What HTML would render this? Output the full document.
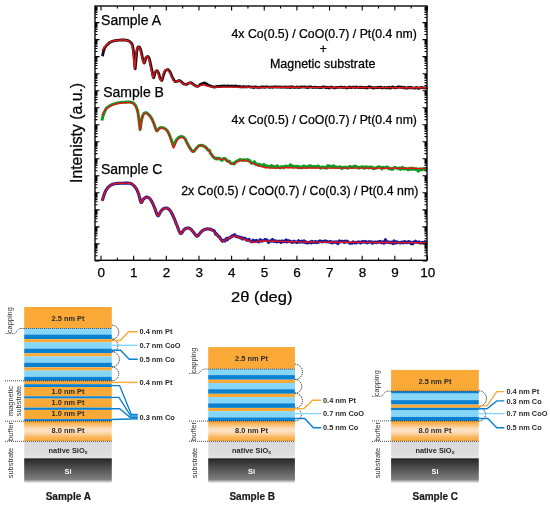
<!DOCTYPE html>
<html><head><meta charset="utf-8"><style>
html,body{margin:0;padding:0;background:#fff;}
svg{display:block;will-change:transform;font-family:"Liberation Sans",sans-serif;}
.ch text{stroke:#000;stroke-width:0.25px;}
</style></head><body>
<svg width="550" height="507" viewBox="0 0 550 507">
<rect width="550" height="507" fill="#fff"/>
<defs>
<linearGradient id="buf" x1="0" y1="0" x2="0" y2="1">
<stop offset="0" stop-color="#f9a536"/><stop offset="0.12" stop-color="#fab04e"/><stop offset="0.3" stop-color="#fcd3a4"/><stop offset="0.45" stop-color="#fde3c8"/><stop offset="0.6" stop-color="#fcd6aa"/><stop offset="0.8" stop-color="#fab75c"/><stop offset="1" stop-color="#f9a536"/>
</linearGradient>
<linearGradient id="sio" x1="0" y1="0" x2="0" y2="1">
<stop offset="0" stop-color="#d9d9d9"/><stop offset="0.8" stop-color="#dedede"/><stop offset="1" stop-color="#e9e9e9"/>
</linearGradient>
<linearGradient id="si" x1="0" y1="0" x2="0" y2="1">
<stop offset="0" stop-color="#262626"/><stop offset="0.85" stop-color="#808080"/><stop offset="1" stop-color="#ffffff"/>
</linearGradient>
</defs>
<g class="ch">
<path d="M102.5 56.2L103.0 53.6L103.5 51.5L104.0 49.8L104.7 47.5L105.2 46.9L105.7 46.4L106.2 45.8L106.7 45.3L107.2 44.8L107.7 44.2L108.2 43.7L108.7 43.3L109.2 42.8L109.7 42.5L110.2 42.2L110.7 42.0L111.2 41.7L111.7 41.5L112.2 41.4L112.7 41.2L113.2 41.1L113.7 41.0L114.2 40.8L114.7 40.7L115.2 40.6L115.7 40.5L116.2 40.5L116.7 40.4L117.2 40.3L117.7 40.3L118.2 40.2L118.7 40.2L119.2 40.1L119.7 40.1L120.2 40.0L120.7 40.0L121.2 40.0L121.7 40.0L122.2 40.0L122.7 40.0L123.2 40.0L123.7 40.0L124.2 40.0L124.7 40.0L125.2 40.0L125.7 40.1L126.2 40.2L126.7 40.3L127.2 40.4L127.7 40.6L128.2 40.7L128.7 41.0L129.2 41.3L129.7 41.6L130.2 41.9L130.7 42.4L131.2 42.9L131.7 43.6L132.2 44.7L132.7 46.7L133.2 49.4L133.7 53.4L134.2 58.9L134.7 65.6L135.2 68.8L135.7 63.7L136.2 57.8L136.7 52.1L137.2 49.2L137.7 47.7L138.2 46.8L138.7 46.8L139.2 47.1L139.7 47.6L140.2 48.4L140.7 49.8L141.2 51.8L141.7 53.9L142.2 56.4L142.7 58.9L143.2 60.6L143.7 62.2L144.2 63.1L144.7 62.3L145.2 60.1L145.7 58.2L146.2 57.5L146.7 56.9L147.2 56.6L147.7 56.5L148.2 56.8L148.7 57.5L149.2 58.4L149.7 60.3L150.2 62.6L150.7 64.9L151.2 67.2L151.7 69.6L152.2 72.0L152.7 74.8L153.2 77.1L153.7 77.7L154.2 76.3L154.7 74.0L155.2 72.2L155.7 71.5L156.2 71.0L156.7 70.7L157.2 70.8L157.7 71.5L158.2 72.4L158.7 73.5L159.2 75.2L159.7 77.1L160.2 78.5L160.7 79.4L161.2 80.1L161.7 80.5L162.2 79.9L162.7 78.1L163.2 76.0L163.7 74.5L164.2 73.1L164.7 71.8L165.2 70.8L165.7 70.4L166.2 70.1L166.7 69.8L167.2 69.7L167.7 69.6L168.2 69.7L168.7 70.2L169.2 70.8L169.7 71.6L170.2 72.3L170.7 73.3L171.2 74.5L171.7 75.8L172.2 76.9L172.7 77.9L173.2 78.8L173.7 79.7L174.2 80.6L174.7 81.2L175.2 81.6L175.7 81.6L176.2 81.5L176.7 81.4L177.2 81.3L177.7 81.1L178.2 80.9L178.7 80.6L179.2 80.5L179.7 80.6L180.2 80.9L180.7 81.3L181.2 81.8L181.7 82.2L182.2 82.6L182.7 83.1L183.2 83.5L183.7 83.9L184.2 84.1L184.7 84.2L185.2 84.3L185.7 84.4L186.2 84.4L186.7 84.3L187.2 84.1L187.7 83.7L188.2 83.4L188.7 83.2L189.2 83.0L189.7 82.9L190.2 82.7L190.7 82.7L191.2 82.8L191.7 83.1L192.2 83.5L192.7 83.9L193.2 84.3L193.7 84.6L194.2 84.9L194.7 85.3L195.2 85.6L195.7 85.9L196.2 86.1L196.7 86.2L197.2 86.3L197.7 86.3L198.2 86.2L198.7 85.9L199.2 85.5L199.7 85.1L200.2 84.6L200.7 84.3L201.2 84.1L201.7 83.9L202.2 83.7L202.7 83.5L203.2 83.3L203.7 83.1L204.2 83.0L204.7 83.0L205.2 83.2L205.7 83.5L206.2 83.7L206.7 84.0L207.2 84.3L207.7 84.8L208.2 85.3L208.7 85.3L209.2 85.5L209.7 85.8L210.2 85.9L210.7 86.0L211.2 86.3L211.7 86.4L212.2 86.5L212.7 86.7L213.2 86.9L213.7 87.0L214.2 87.0L214.7 87.0L215.2 87.0L215.7 86.9L216.2 86.7L216.7 86.6L217.2 86.4L217.7 86.4L218.2 86.5L218.7 86.4L219.2 86.3L219.7 86.6L220.2 86.6L220.7 86.2L221.2 86.0L221.7 86.3L222.2 86.3L222.7 86.1L223.2 86.2L223.7 86.1L224.2 85.9L224.7 86.1L225.2 86.2L225.7 86.1L226.2 86.1L226.7 86.4L227.2 86.1L227.7 85.8L228.2 86.1L228.7 86.2L229.2 86.1L229.7 86.1L230.2 86.1L230.7 86.1L231.2 86.1L231.7 86.2L232.2 86.1L232.7 86.0L233.2 86.3L233.7 86.4L234.2 86.3L234.7 86.2L235.2 86.3L235.7 86.0L236.2 86.1L236.7 86.3L237.2 86.3L237.7 86.5L238.2 86.7L238.7 86.8L239.2 86.5L239.7 86.5L240.2 86.5L240.7 86.6L241.2 87.1L241.7 86.9L242.2 86.7L242.7 86.9L243.2 86.7L243.7 86.5L244.2 86.8L244.7 87.0L245.2 86.8L245.7 86.8L246.2 86.8L246.7 86.7L247.2 86.9L247.7 86.9L248.2 86.6L248.7 86.5L249.2 86.6L249.7 86.8L250.2 87.1L250.7 87.2L251.2 87.2L251.7 87.2L252.2 87.0L252.7 87.0L253.2 87.4L253.7 87.6L254.2 87.2L254.7 87.0L255.2 87.0L255.7 87.0L256.2 87.0L256.7 87.1L257.2 87.3L257.7 87.5L258.2 87.4L258.7 87.4L259.2 87.4L259.7 87.4L260.2 87.4L260.7 87.2L261.2 86.9L261.7 87.0L262.2 87.0L262.7 86.9L263.2 86.9L263.7 87.0L264.2 87.3L264.7 87.3L265.2 86.9L265.7 86.9L266.2 87.0L266.7 87.0L267.2 86.8L267.7 86.8L268.2 87.0L268.7 87.1L269.2 87.4L269.7 87.5L270.2 87.3L270.7 87.1L271.2 87.0L271.7 87.1L272.2 87.2L272.7 87.4L273.2 87.3L273.7 86.8L274.2 86.8L274.7 86.9L275.2 87.0L275.7 86.8L276.2 86.9L276.7 87.1L277.2 87.2L277.7 87.1L278.2 86.8L278.7 87.0L279.2 87.2L279.7 87.0L280.2 86.8L280.7 87.1L281.2 87.4L281.7 87.3L282.2 87.2L282.7 87.1L283.2 87.0L283.7 87.0L284.2 87.1L284.7 87.3L285.2 87.3L285.7 87.0L286.2 87.0L286.7 87.2L287.2 87.4L287.7 87.2L288.2 86.9L288.7 87.1L289.2 87.5L289.7 87.5L290.2 86.9L290.7 86.9L291.2 87.2L291.7 86.8L292.2 86.7L292.7 87.2L293.2 87.3L293.7 87.1L294.2 87.2L294.7 87.4L295.2 87.5L295.7 87.4L296.2 87.2L296.7 87.0L297.2 87.0L297.7 87.2L298.2 87.5L298.7 87.3L299.2 87.1L299.7 87.3L300.2 87.4L300.7 87.2L301.2 87.1L301.7 86.9L302.2 86.8L302.7 87.0L303.2 87.1L303.7 87.1L304.2 87.1L304.7 86.9L305.2 86.9L305.7 87.2L306.2 87.4L306.7 87.1L307.2 87.2L307.7 87.5L308.2 87.5L308.7 87.4L309.2 86.9L309.7 86.7L310.2 87.0L310.7 87.0L311.2 86.9L311.7 87.0L312.2 87.4L312.7 87.5L313.2 87.3L313.7 87.4L314.2 87.3L314.7 87.2L315.2 87.2L315.7 87.3L316.2 87.4L316.7 87.3L317.2 87.3L317.7 87.4L318.2 87.3L318.7 87.3L319.2 87.5L319.7 87.6L320.2 87.5L320.7 87.6L321.2 87.5L321.7 87.2L322.2 87.2L322.7 87.3L323.2 87.2L323.7 86.9L324.2 86.8L324.7 86.9L325.2 87.2L325.7 87.6L326.2 87.8L326.7 87.7L327.2 87.4L327.7 87.2L328.2 87.3L328.7 87.7L329.2 88.0L329.7 87.7L330.2 87.3L330.7 87.2L331.2 87.1L331.7 87.0L332.2 87.2L332.7 87.5L333.2 87.7L333.7 87.7L334.2 87.8L334.7 87.9L335.2 87.7L335.7 87.8L336.2 87.6L336.7 87.3L337.2 87.3L337.7 87.3L338.2 87.3L338.7 87.3L339.2 87.4L339.7 87.3L340.2 87.2L340.7 87.1L341.2 87.0L341.7 87.3L342.2 87.5L342.7 87.5L343.2 87.5L343.7 87.4L344.2 87.2L344.7 87.3L345.2 87.6L345.7 87.7L346.2 87.8L346.7 88.0L347.2 87.7L347.7 87.7L348.2 87.7L348.7 87.4L349.2 87.0L349.7 87.0L350.2 87.4L350.7 87.7L351.2 87.6L351.7 87.4L352.2 87.4L352.7 87.2L353.2 87.0L353.7 87.2L354.2 87.3L354.7 87.3L355.2 87.6L355.7 87.2L356.2 86.9L356.7 87.1L357.2 87.4L357.7 87.4L358.2 87.5L358.7 87.7L359.2 87.4L359.7 87.1L360.2 87.3L360.7 87.6L361.2 87.2L361.7 87.1L362.2 87.4L362.7 87.6L363.2 87.7L363.7 87.5L364.2 87.4L364.7 87.6L365.2 87.5L365.7 87.3L366.2 87.9L366.7 88.1L367.2 87.5L367.7 87.5L368.2 87.6L368.7 87.1L369.2 86.7L369.7 86.9L370.2 87.1L370.7 87.3L371.2 87.6L371.7 87.5L372.2 87.3L372.7 87.7L373.2 88.1L373.7 88.1L374.2 87.9L374.7 87.7L375.2 87.6L375.7 87.5L376.2 87.6L376.7 87.7L377.2 87.8L377.7 87.6L378.2 87.3L378.7 87.6L379.2 87.7L379.7 87.3L380.2 87.2L380.7 87.1L381.2 87.2L381.7 87.7L382.2 88.0L382.7 87.9L383.2 87.7L383.7 87.6L384.2 87.5L384.7 87.5L385.2 87.8L385.7 88.0L386.2 87.8L386.7 87.6L387.2 87.5L387.7 87.7L388.2 88.0L388.7 87.6L389.2 87.2L389.7 87.7L390.2 88.1L390.7 88.0L391.2 87.9L391.7 87.5L392.2 86.9L392.7 86.8L393.2 87.1L393.7 87.5L394.2 87.7L394.7 87.8L395.2 87.7L395.7 87.8L396.2 87.6L396.7 87.5L397.2 87.6L397.7 87.2L398.2 86.8L398.7 87.1L399.2 87.2L399.7 86.9L400.2 87.2L400.7 87.4L401.2 87.1L401.7 87.1L402.2 87.3L402.7 87.6L403.2 87.9L403.7 87.7L404.2 87.2L404.7 87.4L405.2 87.9L405.7 88.2L406.2 88.0L406.7 88.0L407.2 88.1L407.7 87.8L408.2 87.4L408.7 87.3L409.2 87.7L409.7 88.0L410.2 87.6L410.7 87.4L411.2 87.4L411.7 87.7L412.2 87.9L412.7 87.8L413.2 87.9L413.7 88.0L414.2 88.1L414.7 88.2L415.2 88.1L415.7 87.7L416.2 87.4L416.7 87.5L417.2 87.7L417.7 88.0L418.2 88.5L418.7 88.4L419.2 87.9L419.7 87.8L420.2 87.9L420.7 87.5L421.2 87.6L421.7 87.8L422.2 87.6L422.7 87.5L423.2 87.7L423.7 87.9L424.2 87.9L424.7 88.0L425.2 88.0L425.7 88.0L426.2 88.0L426.7 87.6L427.2 87.4" fill="none" stroke="#111" stroke-width="2.8" stroke-linejoin="round"/>
<path d="M102.0 50.6L102.5 49.9L103.0 49.1L103.5 48.4L104.0 47.8L104.5 47.2L105.0 46.6L105.5 46.0L106.0 45.5L106.5 45.0L107.0 44.4L107.5 43.9L108.0 43.4L108.5 43.0L109.0 42.6L109.5 42.3L110.0 42.0L110.5 41.8L111.0 41.6L111.5 41.4L112.0 41.3L112.5 41.1L113.0 41.0L113.5 40.9L114.0 40.8L114.5 40.7L115.0 40.6L115.5 40.5L116.0 40.4L116.5 40.4L117.0 40.3L117.5 40.2L118.0 40.2L118.5 40.1L119.0 40.1L119.5 40.1L120.0 40.0L120.5 40.0L121.0 40.0L121.5 40.0L122.0 40.0L122.5 40.0L123.0 40.0L123.5 40.0L124.0 40.0L124.5 40.0L125.0 40.1L125.5 40.2L126.0 40.3L126.5 40.4L127.0 40.5L127.5 40.7L128.0 40.9L128.5 41.1L129.0 41.5L129.5 41.8L130.0 42.2L130.5 42.7L131.0 43.3L131.5 44.2L132.0 45.8L132.5 48.2L133.0 51.5L133.5 56.7L134.0 62.6L134.5 68.7L135.0 66.2L135.5 60.0L136.0 54.2L136.5 50.0L137.0 48.2L137.5 47.0L138.0 46.7L138.5 46.9L139.0 47.4L139.5 48.0L140.0 49.2L140.5 51.0L141.0 53.0L141.5 55.3L142.0 57.9L142.5 60.0L143.0 61.6L143.5 62.8L144.0 62.9L144.5 61.0L145.0 58.8L145.5 57.7L146.0 57.1L146.5 56.7L147.0 56.5L147.5 56.7L148.0 57.2L148.5 58.0L149.0 59.5L149.5 61.7L150.0 64.0L150.5 66.3L151.0 68.7L151.5 71.0L152.0 73.6L152.5 76.3L153.0 77.7L153.5 77.1L154.0 74.9L154.5 72.7L155.0 71.7L155.5 71.2L156.0 70.8L156.5 70.7L157.0 71.1L157.5 72.0L158.0 73.0L158.5 74.5L159.0 76.4L159.5 78.1L160.0 79.0L160.5 79.9L161.0 80.4L161.5 80.3L162.0 78.9L162.5 76.8L163.0 75.0L163.5 73.6L164.0 72.3L164.5 71.1L165.0 70.5L165.5 70.2L166.0 69.9L166.5 69.7L167.0 69.6L167.5 69.6L168.0 70.0L168.5 70.5L169.0 71.3L169.5 72.0L170.0 72.9L170.5 74.0L171.0 75.3L171.5 76.5L172.0 77.5L172.5 78.4L173.0 79.4L173.5 80.3L174.0 81.0L174.5 81.5L175.0 81.6L175.5 81.6L176.0 81.5L176.5 81.3L177.0 81.2L177.5 81.0L178.0 80.7L178.5 80.5L179.0 80.5L179.5 80.8L180.0 81.2L180.5 81.6L181.0 82.0L181.5 82.4L182.0 82.9L182.5 83.4L183.0 83.8L183.5 84.0L184.0 84.1L184.5 84.3L185.0 84.3L185.5 84.4L186.0 84.4L186.5 84.2L187.0 83.9L187.5 83.5L188.0 83.3L188.5 83.1L189.0 82.9L189.5 82.8L190.0 82.7L190.5 82.7L191.0 83.0L191.5 83.3L192.0 83.7L192.5 84.2L193.0 84.5L193.5 84.8L194.0 85.1L194.5 85.4L195.0 85.7L195.5 86.0L196.0 86.2L196.5 86.3L197.0 86.3L197.5 86.2L198.0 86.1L198.5 86.0L199.0 85.8L199.5 85.7L200.0 85.6L200.5 85.5L201.0 85.4L201.5 85.3L202.0 85.3L202.5 85.2L203.0 85.1L203.5 85.1L204.0 85.1L204.5 85.2L205.0 85.3L205.5 85.4L206.0 85.6L206.5 85.8L207.0 86.0L207.5 86.2L208.0 86.3L208.5 86.4L209.0 86.5L209.5 86.6L210.0 86.8L210.5 86.9L211.0 86.9L211.5 87.0L212.0 87.1L212.5 87.1L213.0 87.1L213.5 87.1L214.0 87.1L214.5 87.1L215.0 87.1L215.5 87.1L216.0 87.1L216.5 87.1L217.0 87.1L217.5 87.1L218.0 87.1L218.5 87.1L219.0 87.1L219.5 87.1L220.0 87.1L220.5 87.1L221.0 87.1L221.5 87.1L222.0 87.1L222.5 87.1L223.0 87.1L223.5 87.1L224.0 87.1L224.5 87.1L225.0 87.1L225.5 87.1L226.0 87.1L226.5 87.1L227.0 87.1L227.5 87.1L228.0 87.1L228.5 87.1L229.0 87.1L229.5 87.1L230.0 87.1L230.5 87.1L231.0 87.1L231.5 87.1L232.0 87.1L232.5 87.1L233.0 87.1L233.5 87.1L234.0 87.1L234.5 87.1L235.0 87.1L235.5 87.1L236.0 87.1L236.5 87.1L237.0 87.1L237.5 87.1L238.0 87.1L238.5 87.1L239.0 87.1L239.5 87.1L240.0 87.1L240.5 87.1L241.0 87.1L241.5 87.1L242.0 87.1L242.5 87.1L243.0 87.1L243.5 87.1L244.0 87.1L244.5 87.1L245.0 87.1L245.5 87.1L246.0 87.1L246.5 87.1L247.0 87.1L247.5 87.2L248.0 87.2L248.5 87.2L249.0 87.2L249.5 87.2L250.0 87.3L250.5 87.3L251.0 87.3L251.5 87.3L252.0 87.4L252.5 87.4L253.0 87.4L253.5 87.4L254.0 87.4L254.5 87.5L255.0 87.5L255.5 87.5L256.0 87.5L256.5 87.5L257.0 87.5L257.5 87.5L258.0 87.5L258.5 87.5L259.0 87.5L259.5 87.5L260.0 87.5L260.5 87.5L261.0 87.5L261.5 87.5L262.0 87.5L262.5 87.5L263.0 87.5L263.5 87.5L264.0 87.5L264.5 87.5L265.0 87.5L265.5 87.4L266.0 87.4L266.5 87.4L267.0 87.4L267.5 87.4L268.0 87.4L268.5 87.4L269.0 87.4L269.5 87.4L270.0 87.4L270.5 87.4L271.0 87.4L271.5 87.4L272.0 87.4L272.5 87.4L273.0 87.4L273.5 87.4L274.0 87.3L274.5 87.3L275.0 87.3L275.5 87.3L276.0 87.3L276.5 87.3L277.0 87.3L277.5 87.3L278.0 87.3L278.5 87.3L279.0 87.3L279.5 87.3L280.0 87.3L280.5 87.3L281.0 87.3L281.5 87.3L282.0 87.3L282.5 87.3L283.0 87.3L283.5 87.3L284.0 87.3L284.5 87.3L285.0 87.3L285.5 87.3L286.0 87.3L286.5 87.3L287.0 87.3L287.5 87.3L288.0 87.3L288.5 87.3L289.0 87.3L289.5 87.3L290.0 87.3L290.5 87.3L291.0 87.3L291.5 87.3L292.0 87.3L292.5 87.3L293.0 87.3L293.5 87.3L294.0 87.3L294.5 87.3L295.0 87.3L295.5 87.3L296.0 87.3L296.5 87.3L297.0 87.3L297.5 87.3L298.0 87.3L298.5 87.4L299.0 87.4L299.5 87.4L300.0 87.4L300.5 87.4L301.0 87.4L301.5 87.4L302.0 87.4L302.5 87.4L303.0 87.4L303.5 87.4L304.0 87.4L304.5 87.4L305.0 87.4L305.5 87.4L306.0 87.4L306.5 87.4L307.0 87.4L307.5 87.4L308.0 87.4L308.5 87.4L309.0 87.4L309.5 87.4L310.0 87.4L310.5 87.4L311.0 87.4L311.5 87.4L312.0 87.4L312.5 87.4L313.0 87.4L313.5 87.4L314.0 87.4L314.5 87.4L315.0 87.4L315.5 87.4L316.0 87.4L316.5 87.4L317.0 87.4L317.5 87.4L318.0 87.4L318.5 87.4L319.0 87.4L319.5 87.4L320.0 87.4L320.5 87.4L321.0 87.4L321.5 87.4L322.0 87.4L322.5 87.4L323.0 87.4L323.5 87.4L324.0 87.4L324.5 87.4L325.0 87.4L325.5 87.4L326.0 87.4L326.5 87.4L327.0 87.4L327.5 87.4L328.0 87.4L328.5 87.4L329.0 87.4L329.5 87.4L330.0 87.4L330.5 87.5L331.0 87.5L331.5 87.5L332.0 87.5L332.5 87.5L333.0 87.5L333.5 87.5L334.0 87.5L334.5 87.5L335.0 87.5L335.5 87.5L336.0 87.5L336.5 87.5L337.0 87.5L337.5 87.5L338.0 87.5L338.5 87.5L339.0 87.5L339.5 87.5L340.0 87.5L340.5 87.5L341.0 87.5L341.5 87.5L342.0 87.5L342.5 87.5L343.0 87.5L343.5 87.5L344.0 87.5L344.5 87.5L345.0 87.5L345.5 87.5L346.0 87.5L346.5 87.5L347.0 87.5L347.5 87.5L348.0 87.5L348.5 87.5L349.0 87.5L349.5 87.5L350.0 87.5L350.5 87.5L351.0 87.5L351.5 87.5L352.0 87.5L352.5 87.5L353.0 87.5L353.5 87.5L354.0 87.5L354.5 87.5L355.0 87.5L355.5 87.5L356.0 87.5L356.5 87.5L357.0 87.5L357.5 87.5L358.0 87.5L358.5 87.5L359.0 87.5L359.5 87.5L360.0 87.5L360.5 87.5L361.0 87.5L361.5 87.5L362.0 87.5L362.5 87.5L363.0 87.5L363.5 87.5L364.0 87.5L364.5 87.5L365.0 87.5L365.5 87.5L366.0 87.6L366.5 87.6L367.0 87.6L367.5 87.6L368.0 87.6L368.5 87.6L369.0 87.6L369.5 87.6L370.0 87.6L370.5 87.6L371.0 87.6L371.5 87.6L372.0 87.6L372.5 87.6L373.0 87.6L373.5 87.6L374.0 87.6L374.5 87.6L375.0 87.6L375.5 87.6L376.0 87.6L376.5 87.6L377.0 87.6L377.5 87.6L378.0 87.6L378.5 87.6L379.0 87.6L379.5 87.6L380.0 87.6L380.5 87.6L381.0 87.6L381.5 87.6L382.0 87.6L382.5 87.6L383.0 87.6L383.5 87.6L384.0 87.6L384.5 87.6L385.0 87.6L385.5 87.6L386.0 87.6L386.5 87.6L387.0 87.6L387.5 87.6L388.0 87.6L388.5 87.6L389.0 87.6L389.5 87.6L390.0 87.6L390.5 87.6L391.0 87.6L391.5 87.6L392.0 87.6L392.5 87.6L393.0 87.7L393.5 87.7L394.0 87.7L394.5 87.7L395.0 87.7L395.5 87.7L396.0 87.7L396.5 87.7L397.0 87.7L397.5 87.7L398.0 87.7L398.5 87.7L399.0 87.7L399.5 87.7L400.0 87.7L400.5 87.7L401.0 87.7L401.5 87.7L402.0 87.7L402.5 87.7L403.0 87.7L403.5 87.7L404.0 87.7L404.5 87.7L405.0 87.7L405.5 87.7L406.0 87.7L406.5 87.7L407.0 87.7L407.5 87.7L408.0 87.7L408.5 87.7L409.0 87.7L409.5 87.7L410.0 87.7L410.5 87.7L411.0 87.7L411.5 87.7L412.0 87.7L412.5 87.7L413.0 87.7L413.5 87.7L414.0 87.7L414.5 87.7L415.0 87.7L415.5 87.7L416.0 87.7L416.5 87.8L417.0 87.8L417.5 87.8L418.0 87.8L418.5 87.8L419.0 87.8L419.5 87.8L420.0 87.8L420.5 87.8L421.0 87.8L421.5 87.8L422.0 87.8L422.5 87.8L423.0 87.8L423.5 87.8L424.0 87.8L424.5 87.8L425.0 87.8L425.5 87.8L426.0 87.8L426.5 87.8L427.0 87.8" fill="none" stroke="#e8141c" stroke-width="1.4" stroke-linejoin="round"/>
<path d="M101.9 120.5L102.4 118.3L102.9 116.4L103.4 114.8L103.9 113.5L104.4 112.2L104.9 111.2L105.4 110.3L106.0 108.7L106.5 108.3L107.0 107.8L107.5 107.4L108.0 107.0L108.5 106.7L109.0 106.3L109.5 106.0L110.0 105.7L110.5 105.4L111.0 105.2L111.5 104.9L112.0 104.7L112.5 104.5L113.0 104.3L113.5 104.1L114.0 104.0L114.5 103.8L115.0 103.6L115.5 103.5L116.0 103.4L116.5 103.2L117.0 103.1L117.5 103.0L118.0 102.9L118.5 102.8L119.0 102.7L119.5 102.7L120.0 102.6L120.5 102.5L121.0 102.5L121.5 102.4L122.0 102.4L122.5 102.3L123.0 102.3L123.5 102.3L124.0 102.2L124.5 102.2L125.0 102.2L125.5 102.1L126.0 102.1L126.5 102.1L127.0 102.1L127.5 102.0L128.0 102.0L128.5 102.0L129.0 102.0L129.5 102.0L130.0 102.0L130.5 102.1L131.0 102.2L131.5 102.3L132.0 102.4L132.5 102.6L133.0 102.9L133.5 103.3L134.0 103.7L134.5 104.3L135.0 104.8L135.5 105.6L136.0 106.5L136.5 107.6L137.0 109.0L137.5 110.7L138.0 112.9L138.5 116.2L139.0 120.0L139.5 124.0L140.0 129.6L140.5 127.8L141.0 123.4L141.5 120.7L142.0 118.2L142.5 116.4L143.0 115.1L143.5 114.1L144.0 113.5L144.5 113.1L145.0 112.9L145.5 112.7L146.0 112.7L146.5 112.8L147.0 113.2L147.5 113.6L148.0 114.0L148.5 114.4L149.0 114.9L149.5 115.4L150.0 116.0L150.5 116.7L151.0 117.4L151.5 118.3L152.0 119.2L152.5 120.2L153.0 121.4L153.5 122.5L154.0 123.8L154.5 125.3L155.0 126.7L155.5 128.0L156.0 129.5L156.5 130.7L157.0 130.9L157.5 130.4L158.0 129.7L158.5 129.1L159.0 128.6L159.5 128.1L160.0 127.9L160.5 127.7L161.0 127.6L161.5 127.6L162.0 127.6L162.5 127.7L163.0 127.8L163.5 128.0L164.0 128.2L164.5 128.4L165.0 128.7L165.5 129.1L166.0 129.5L166.5 130.0L167.0 130.4L167.5 131.1L168.0 131.9L168.5 132.9L169.0 133.9L169.5 135.1L170.0 136.3L170.5 137.7L171.0 139.0L171.5 140.3L172.0 141.8L172.5 143.5L173.0 144.8L173.5 145.4L174.0 145.2L174.5 144.1L175.0 142.8L175.5 141.6L176.0 140.8L176.5 140.0L177.0 139.2L177.5 138.5L178.0 138.0L178.5 137.7L179.0 137.4L179.5 137.1L180.0 136.9L180.5 136.7L181.0 136.6L181.5 136.6L182.0 136.6L182.5 136.7L183.0 137.0L183.5 137.3L184.0 137.7L184.5 138.1L185.0 138.7L185.5 139.6L186.0 140.7L186.5 141.8L187.0 142.8L187.5 143.7L188.0 144.7L188.5 145.6L189.0 146.5L189.5 147.4L190.0 148.1L190.5 148.8L191.0 149.6L191.5 150.3L192.0 150.9L192.5 151.3L193.0 151.5L193.5 151.4L194.0 151.1L194.5 150.6L195.0 149.9L195.5 149.3L196.0 148.8L196.5 148.2L197.0 147.6L197.5 147.0L198.0 146.5L198.5 146.0L199.0 145.8L199.5 145.7L200.0 145.5L200.5 145.4L201.0 145.4L201.5 145.3L202.0 145.3L202.5 145.5L203.0 145.7L203.5 145.9L204.0 146.2L204.5 146.6L205.0 146.9L205.5 146.9L206.0 147.4L206.5 148.2L207.0 148.8L207.5 149.4L208.0 150.2L208.5 150.4L209.0 150.1L209.5 150.5L210.0 152.0L210.5 153.4L211.0 154.0L211.5 154.4L212.0 155.2L212.5 156.1L213.0 156.7L213.5 156.9L214.0 157.3L214.5 158.1L215.0 158.3L215.5 158.2L216.0 158.9L216.5 159.0L217.0 158.2L217.5 158.0L218.0 158.7L218.5 159.0L219.0 158.4L219.5 158.4L220.0 158.9L220.5 158.8L221.0 159.2L221.5 160.2L222.0 160.4L222.5 159.6L223.0 159.1L223.5 158.7L224.0 158.4L224.5 158.7L225.0 159.0L225.5 158.8L226.0 159.3L226.5 160.2L227.0 160.8L227.5 161.2L228.0 161.4L228.5 161.2L229.0 161.0L229.5 161.3L230.0 162.3L230.5 163.1L231.0 163.4L231.5 163.5L232.0 163.3L232.5 163.3L233.0 163.2L233.5 163.4L234.0 164.0L234.5 163.7L235.0 162.6L235.5 162.1L236.0 161.8L236.5 161.4L237.0 161.2L237.5 160.9L238.0 160.6L238.5 160.4L239.0 160.2L239.5 159.8L240.0 159.5L240.5 159.6L241.0 159.7L241.5 159.8L242.0 160.2L242.5 160.5L243.0 160.3L243.5 159.9L244.0 159.8L244.5 159.9L245.0 160.3L245.5 160.1L246.0 159.8L246.5 160.3L247.0 160.3L247.5 159.6L248.0 159.9L248.5 160.3L249.0 160.2L249.5 160.4L250.0 160.9L250.5 161.7L251.0 162.7L251.5 163.3L252.0 162.9L252.5 162.9L253.0 163.0L253.5 162.6L254.0 161.9L254.5 161.7L255.0 162.6L255.5 164.0L256.0 164.7L256.5 164.6L257.0 164.1L257.5 164.1L258.0 165.1L258.5 165.3L259.0 164.5L259.5 164.2L260.0 164.6L260.5 165.5L261.0 165.6L261.5 165.3L262.0 165.6L262.5 165.7L263.0 165.1L263.5 164.6L264.0 164.4L264.5 164.8L265.0 166.4L265.5 166.9L266.0 165.9L266.5 166.0L267.0 166.3L267.5 166.1L268.0 166.0L268.5 166.3L269.0 166.7L269.5 166.6L270.0 166.6L270.5 166.8L271.0 166.1L271.5 165.5L272.0 166.1L272.5 166.9L273.0 166.9L273.5 166.5L274.0 166.3L274.5 166.7L275.0 167.1L275.5 167.4L276.0 167.6L276.5 166.8L277.0 165.7L277.5 165.9L278.0 166.8L278.5 167.2L279.0 167.3L279.5 167.5L280.0 167.9L280.5 167.6L281.0 166.8L281.5 166.9L282.0 166.9L282.5 166.6L283.0 167.3L283.5 167.8L284.0 167.3L284.5 166.7L285.0 166.3L285.5 166.0L286.0 166.1L286.5 166.2L287.0 166.3L287.5 166.4L288.0 166.8L288.5 166.9L289.0 166.4L289.5 166.2L290.0 165.2L290.5 164.9L291.0 166.0L291.5 166.7L292.0 166.4L292.5 165.9L293.0 166.2L293.5 167.0L294.0 167.3L294.5 167.1L295.0 166.7L295.5 166.3L296.0 166.3L296.5 166.6L297.0 166.7L297.5 166.2L298.0 166.2L298.5 167.3L299.0 167.9L299.5 167.5L300.0 167.0L300.5 167.0L301.0 167.4L301.5 167.8L302.0 167.9L302.5 167.2L303.0 166.3L303.5 166.1L304.0 165.9L304.5 166.3L305.0 167.4L305.5 167.3L306.0 166.9L306.5 167.5L307.0 167.2L307.5 166.6L308.0 166.8L308.5 166.8L309.0 166.0L309.5 165.8L310.0 166.5L310.5 166.4L311.0 165.9L311.5 166.7L312.0 167.3L312.5 166.9L313.0 166.8L313.5 166.6L314.0 166.4L314.5 166.9L315.0 167.2L315.5 166.6L316.0 166.8L316.5 167.0L317.0 166.6L317.5 166.3L318.0 166.0L318.5 166.2L319.0 166.9L319.5 167.0L320.0 167.4L320.5 168.2L321.0 167.5L321.5 166.9L322.0 166.9L322.5 167.1L323.0 167.5L323.5 167.5L324.0 167.9L324.5 167.7L325.0 167.1L325.5 167.2L326.0 167.7L326.5 168.2L327.0 167.4L327.5 166.1L328.0 165.6L328.5 165.8L329.0 166.3L329.5 166.2L330.0 166.1L330.5 166.4L331.0 167.2L331.5 167.4L332.0 166.5L332.5 166.2L333.0 166.2L333.5 165.8L334.0 165.9L334.5 166.6L335.0 167.3L335.5 167.1L336.0 167.0L336.5 167.4L337.0 167.4L337.5 167.3L338.0 167.1L338.5 167.0L339.0 167.4L339.5 167.5L340.0 166.8L340.5 166.9L341.0 167.7L341.5 168.4L342.0 168.6L342.5 167.9L343.0 167.4L343.5 167.3L344.0 167.5L344.5 167.5L345.0 167.1L345.5 167.1L346.0 167.4L346.5 167.5L347.0 167.9L347.5 168.2L348.0 168.0L348.5 167.6L349.0 166.9L349.5 166.5L350.0 166.5L350.5 167.1L351.0 167.5L351.5 167.0L352.0 166.8L352.5 167.2L353.0 166.9L353.5 166.7L354.0 167.2L354.5 167.0L355.0 166.0L355.5 166.3L356.0 167.1L356.5 167.0L357.0 166.7L357.5 167.3L358.0 167.9L358.5 167.7L359.0 167.9L359.5 167.9L360.0 167.5L360.5 167.4L361.0 167.2L361.5 166.8L362.0 167.0L362.5 167.5L363.0 167.4L363.5 166.8L364.0 167.2L364.5 168.3L365.0 168.3L365.5 167.5L366.0 166.7L366.5 166.7L367.0 167.4L367.5 167.4L368.0 167.2L368.5 168.0L369.0 168.0L369.5 167.1L370.0 166.9L370.5 167.3L371.0 167.5L371.5 167.2L372.0 167.1L372.5 168.0L373.0 168.5L373.5 168.7L374.0 168.6L374.5 168.0L375.0 168.0L375.5 168.4L376.0 168.3L376.5 167.7L377.0 167.4L377.5 167.4L378.0 167.3L378.5 166.8L379.0 166.7L379.5 167.1L380.0 167.2L380.5 167.3L381.0 167.8L381.5 168.5L382.0 169.0L382.5 168.2L383.0 167.3L383.5 167.5L384.0 167.8L384.5 167.9L385.0 167.6L385.5 167.4L386.0 167.5L386.5 167.2L387.0 166.8L387.5 167.3L388.0 168.2L388.5 168.6L389.0 168.2L389.5 168.0L390.0 168.5L390.5 169.0L391.0 169.3L391.5 168.9L392.0 168.7L392.5 169.3L393.0 169.2L393.5 168.5L394.0 167.8L394.5 167.4L395.0 167.5L395.5 167.7L396.0 167.9L396.5 168.0L397.0 168.2L397.5 168.4L398.0 168.7L398.5 168.5L399.0 167.9L399.5 168.0L400.0 169.1L400.5 169.4L401.0 168.8L401.5 168.3L402.0 167.6L402.5 167.4L403.0 168.5L403.5 169.1L404.0 168.3L404.5 168.4L405.0 168.8L405.5 168.4L406.0 168.7L406.5 169.1L407.0 168.9L407.5 169.5L408.0 169.9L408.5 168.9L409.0 168.4L409.5 168.6L410.0 168.2L410.5 168.5L411.0 169.5L411.5 169.1L412.0 168.1L412.5 168.4L413.0 169.2L413.5 169.1L414.0 168.5L414.5 168.8L415.0 169.4L415.5 169.6L416.0 169.1L416.5 168.9L417.0 169.8L417.5 170.3L418.0 171.0L418.5 171.2L419.0 169.7L419.5 169.0L420.0 169.5L420.5 169.5L421.0 169.0L421.5 169.3L422.0 170.0L422.5 169.4L423.0 168.7L423.5 168.8L424.0 169.0L424.5 169.4L425.0 169.3L425.5 169.2L426.0 169.6L426.5 169.8L427.0 170.0" fill="none" stroke="#0e9a1e" stroke-width="3.0" stroke-linejoin="round"/>
<path d="M102.0 115.4L102.5 114.2L103.0 113.2L103.5 112.3L104.0 111.5L104.5 110.9L105.0 110.3L105.5 109.8L106.0 109.3L106.5 108.9L107.0 108.4L107.5 108.0L108.0 107.6L108.5 107.3L109.0 106.9L109.5 106.6L110.0 106.3L110.5 106.0L111.0 105.8L111.5 105.5L112.0 105.3L112.5 105.1L113.0 104.9L113.5 104.7L114.0 104.6L114.5 104.4L115.0 104.2L115.5 104.1L116.0 104.0L116.5 103.8L117.0 103.7L117.5 103.6L118.0 103.5L118.5 103.4L119.0 103.3L119.5 103.3L120.0 103.2L120.5 103.1L121.0 103.1L121.5 103.0L122.0 103.0L122.5 102.9L123.0 102.9L123.5 102.9L124.0 102.8L124.5 102.8L125.0 102.8L125.5 102.7L126.0 102.7L126.5 102.7L127.0 102.7L127.5 102.6L128.0 102.6L128.5 102.6L129.0 102.6L129.5 102.6L130.0 102.6L130.5 102.7L131.0 102.8L131.5 102.9L132.0 103.0L132.5 103.2L133.0 103.5L133.5 103.9L134.0 104.3L134.5 104.9L135.0 105.4L135.5 106.2L136.0 107.1L136.5 108.2L137.0 109.5L137.5 111.3L138.0 113.5L138.5 116.8L139.0 120.5L139.5 124.6L140.0 130.1L140.5 128.4L141.0 124.0L141.5 121.2L142.0 118.8L142.5 117.0L143.0 115.7L143.5 114.6L144.0 114.0L144.5 113.7L145.0 113.4L145.5 113.2L146.0 113.2L146.5 113.4L147.0 113.7L147.5 114.1L148.0 114.5L148.5 114.9L149.0 115.4L149.5 115.9L150.0 116.5L150.5 117.2L151.0 117.9L151.5 118.8L152.0 119.7L152.5 120.7L153.0 121.8L153.5 123.0L154.0 124.3L154.5 125.7L155.0 127.2L155.5 128.5L156.0 129.9L156.5 131.1L157.0 131.3L157.5 130.9L158.0 130.1L158.5 129.5L159.0 129.0L159.5 128.6L160.0 128.3L160.5 128.2L161.0 128.0L161.5 128.0L162.0 128.0L162.5 128.1L163.0 128.3L163.5 128.4L164.0 128.6L164.5 128.8L165.0 129.1L165.5 129.5L166.0 129.9L166.5 130.4L167.0 131.0L167.5 131.7L168.0 132.6L168.5 133.6L169.0 134.8L169.5 136.0L170.0 137.3L170.5 138.9L171.0 140.5L171.5 142.0L172.0 143.7L172.5 145.6L173.0 147.2L173.5 148.0L174.0 147.6L174.5 146.4L175.0 144.8L175.5 143.5L176.0 142.5L176.5 141.4L177.0 140.5L177.5 139.7L178.0 139.2L178.5 138.8L179.0 138.5L179.5 138.2L180.0 137.9L180.5 137.7L181.0 137.5L181.5 137.4L182.0 137.4L182.5 137.5L183.0 137.7L183.5 138.0L184.0 138.3L184.5 138.7L185.0 139.3L185.5 140.2L186.0 141.2L186.5 142.3L187.0 143.3L187.5 144.2L188.0 145.1L188.5 146.0L189.0 146.9L189.5 147.7L190.0 148.4L190.5 149.1L191.0 149.8L191.5 150.6L192.0 151.2L192.5 151.6L193.0 151.8L193.5 151.7L194.0 151.3L194.5 150.8L195.0 150.2L195.5 149.6L196.0 149.0L196.5 148.5L197.0 147.9L197.5 147.2L198.0 146.7L198.5 146.3L199.0 146.0L199.5 145.9L200.0 145.7L200.5 145.6L201.0 145.6L201.5 145.5L202.0 145.5L202.5 145.6L203.0 145.8L203.5 146.1L204.0 146.4L204.5 146.7L205.0 147.0L205.5 147.4L206.0 147.8L206.5 148.3L207.0 148.8L207.5 149.3L208.0 149.9L208.5 150.4L209.0 151.0L209.5 151.6L210.0 152.2L210.5 153.0L211.0 153.7L211.5 154.4L212.0 155.1L212.5 155.8L213.0 156.4L213.5 157.0L214.0 157.4L214.5 157.7L215.0 157.9L215.5 158.1L216.0 158.3L216.5 158.5L217.0 158.6L217.5 158.8L218.0 158.9L218.5 158.9L219.0 159.0L219.5 159.0L220.0 159.1L220.5 159.1L221.0 159.1L221.5 159.1L222.0 159.1L222.5 159.1L223.0 159.2L223.5 159.2L224.0 159.3L224.5 159.4L225.0 159.6L225.5 159.9L226.0 160.2L226.5 160.6L227.0 160.9L227.5 161.2L228.0 161.5L228.5 161.8L229.0 162.1L229.5 162.5L230.0 162.9L230.5 163.2L231.0 163.5L231.5 163.8L232.0 164.0L232.5 164.1L233.0 164.1L233.5 164.0L234.0 163.8L234.5 163.5L235.0 163.2L235.5 162.9L236.0 162.6L236.5 162.2L237.0 161.9L237.5 161.7L238.0 161.5L238.5 161.3L239.0 161.2L239.5 161.0L240.0 160.9L240.5 160.8L241.0 160.6L241.5 160.5L242.0 160.4L242.5 160.3L243.0 160.3L243.5 160.2L244.0 160.2L244.5 160.2L245.0 160.3L245.5 160.4L246.0 160.6L246.5 160.8L247.0 161.0L247.5 161.2L248.0 161.4L248.5 161.6L249.0 161.9L249.5 162.1L250.0 162.3L250.5 162.5L251.0 162.7L251.5 162.9L252.0 163.1L252.5 163.4L253.0 163.6L253.5 163.8L254.0 164.0L254.5 164.2L255.0 164.4L255.5 164.6L256.0 164.8L256.5 165.0L257.0 165.2L257.5 165.4L258.0 165.6L258.5 165.7L259.0 165.9L259.5 166.1L260.0 166.3L260.5 166.4L261.0 166.5L261.5 166.7L262.0 166.8L262.5 166.9L263.0 167.0L263.5 167.1L264.0 167.3L264.5 167.4L265.0 167.5L265.5 167.6L266.0 167.6L266.5 167.7L267.0 167.8L267.5 167.8L268.0 167.9L268.5 167.9L269.0 167.9L269.5 168.0L270.0 168.0L270.5 168.0L271.0 168.0L271.5 168.0L272.0 168.1L272.5 168.1L273.0 168.1L273.5 168.1L274.0 168.1L274.5 168.1L275.0 168.1L275.5 168.1L276.0 168.1L276.5 168.1L277.0 168.1L277.5 168.1L278.0 168.0L278.5 168.0L279.0 168.0L279.5 168.0L280.0 168.0L280.5 168.0L281.0 167.9L281.5 167.9L282.0 167.9L282.5 167.9L283.0 167.9L283.5 167.9L284.0 167.8L284.5 167.8L285.0 167.8L285.5 167.8L286.0 167.8L286.5 167.8L287.0 167.8L287.5 167.8L288.0 167.8L288.5 167.8L289.0 167.8L289.5 167.8L290.0 167.8L290.5 167.8L291.0 167.8L291.5 167.8L292.0 167.9L292.5 167.9L293.0 167.9L293.5 167.9L294.0 167.9L294.5 167.9L295.0 167.9L295.5 167.9L296.0 167.9L296.5 168.0L297.0 168.0L297.5 168.0L298.0 168.0L298.5 168.0L299.0 168.0L299.5 168.0L300.0 168.0L300.5 168.0L301.0 168.0L301.5 168.0L302.0 168.0L302.5 168.0L303.0 168.0L303.5 168.0L304.0 168.0L304.5 168.0L305.0 168.0L305.5 168.0L306.0 168.0L306.5 168.0L307.0 168.0L307.5 168.0L308.0 168.0L308.5 168.0L309.0 168.0L309.5 168.0L310.0 168.0L310.5 168.0L311.0 168.0L311.5 168.0L312.0 168.0L312.5 168.0L313.0 168.0L313.5 168.0L314.0 168.0L314.5 168.0L315.0 168.0L315.5 168.0L316.0 168.0L316.5 168.0L317.0 168.0L317.5 168.0L318.0 168.0L318.5 168.1L319.0 168.1L319.5 168.1L320.0 168.1L320.5 168.1L321.0 168.1L321.5 168.1L322.0 168.1L322.5 168.1L323.0 168.1L323.5 168.1L324.0 168.1L324.5 168.1L325.0 168.1L325.5 168.1L326.0 168.1L326.5 168.1L327.0 168.1L327.5 168.1L328.0 168.1L328.5 168.1L329.0 168.1L329.5 168.1L330.0 168.1L330.5 168.1L331.0 168.1L331.5 168.1L332.0 168.1L332.5 168.1L333.0 168.1L333.5 168.1L334.0 168.1L334.5 168.1L335.0 168.1L335.5 168.1L336.0 168.1L336.5 168.1L337.0 168.1L337.5 168.1L338.0 168.1L338.5 168.1L339.0 168.1L339.5 168.1L340.0 168.1L340.5 168.1L341.0 168.1L341.5 168.1L342.0 168.1L342.5 168.1L343.0 168.1L343.5 168.1L344.0 168.1L344.5 168.1L345.0 168.1L345.5 168.1L346.0 168.1L346.5 168.1L347.0 168.1L347.5 168.1L348.0 168.1L348.5 168.1L349.0 168.1L349.5 168.1L350.0 168.1L350.5 168.1L351.0 168.1L351.5 168.1L352.0 168.1L352.5 168.1L353.0 168.1L353.5 168.1L354.0 168.1L354.5 168.1L355.0 168.1L355.5 168.1L356.0 168.1L356.5 168.1L357.0 168.1L357.5 168.1L358.0 168.1L358.5 168.1L359.0 168.1L359.5 168.1L360.0 168.1L360.5 168.1L361.0 168.1L361.5 168.1L362.0 168.1L362.5 168.1L363.0 168.1L363.5 168.1L364.0 168.1L364.5 168.1L365.0 168.1L365.5 168.1L366.0 168.1L366.5 168.1L367.0 168.1L367.5 168.2L368.0 168.2L368.5 168.2L369.0 168.2L369.5 168.2L370.0 168.2L370.5 168.2L371.0 168.2L371.5 168.2L372.0 168.2L372.5 168.2L373.0 168.2L373.5 168.2L374.0 168.2L374.5 168.2L375.0 168.2L375.5 168.2L376.0 168.2L376.5 168.2L377.0 168.2L377.5 168.2L378.0 168.2L378.5 168.2L379.0 168.2L379.5 168.2L380.0 168.2L380.5 168.2L381.0 168.2L381.5 168.2L382.0 168.2L382.5 168.2L383.0 168.2L383.5 168.2L384.0 168.2L384.5 168.2L385.0 168.2L385.5 168.2L386.0 168.2L386.5 168.2L387.0 168.2L387.5 168.2L388.0 168.2L388.5 168.2L389.0 168.2L389.5 168.2L390.0 168.2L390.5 168.2L391.0 168.2L391.5 168.2L392.0 168.2L392.5 168.2L393.0 168.2L393.5 168.2L394.0 168.2L394.5 168.3L395.0 168.3L395.5 168.3L396.0 168.3L396.5 168.3L397.0 168.3L397.5 168.3L398.0 168.3L398.5 168.3L399.0 168.3L399.5 168.3L400.0 168.3L400.5 168.3L401.0 168.3L401.5 168.3L402.0 168.3L402.5 168.3L403.0 168.3L403.5 168.3L404.0 168.3L404.5 168.3L405.0 168.3L405.5 168.3L406.0 168.3L406.5 168.3L407.0 168.3L407.5 168.3L408.0 168.3L408.5 168.3L409.0 168.3L409.5 168.3L410.0 168.3L410.5 168.3L411.0 168.3L411.5 168.3L412.0 168.3L412.5 168.3L413.0 168.3L413.5 168.3L414.0 168.3L414.5 168.3L415.0 168.3L415.5 168.3L416.0 168.3L416.5 168.3L417.0 168.4L417.5 168.4L418.0 168.4L418.5 168.4L419.0 168.4L419.5 168.4L420.0 168.4L420.5 168.4L421.0 168.4L421.5 168.4L422.0 168.4L422.5 168.4L423.0 168.4L423.5 168.4L424.0 168.4L424.5 168.4L425.0 168.4L425.5 168.4L426.0 168.4L426.5 168.4L427.0 168.4" fill="none" stroke="#e8141c" stroke-width="1.4" stroke-linejoin="round"/>
<path d="M102.3 200.6L102.8 199.0L103.3 197.4L104.0 195.0L104.5 193.7L105.0 192.4L105.5 191.3L106.0 190.3L106.5 189.5L107.0 188.8L107.5 188.1L108.0 187.5L108.5 186.9L109.0 186.5L109.5 186.1L110.0 185.7L110.5 185.4L111.0 185.1L111.5 184.8L112.0 184.5L112.5 184.3L113.0 184.2L113.5 184.0L114.0 183.9L114.5 183.8L115.0 183.7L115.5 183.7L116.0 183.6L116.5 183.5L117.0 183.5L117.5 183.4L118.0 183.4L118.5 183.4L119.0 183.3L119.5 183.3L120.0 183.3L120.5 183.3L121.0 183.2L121.5 183.2L122.0 183.2L122.5 183.2L123.0 183.2L123.5 183.2L124.0 183.1L124.5 183.1L125.0 183.1L125.5 183.1L126.0 183.1L126.5 183.1L127.0 183.1L127.5 183.1L128.0 183.1L128.5 183.2L129.0 183.2L129.5 183.2L130.0 183.3L130.5 183.4L131.0 183.7L131.5 183.9L132.0 184.2L132.5 184.5L133.0 184.9L133.5 185.3L134.0 185.8L134.5 186.3L135.0 186.9L135.5 187.6L136.0 188.3L136.5 189.1L137.0 190.0L137.5 191.1L138.0 192.4L138.5 193.8L139.0 195.3L139.5 197.1L140.0 199.3L140.5 201.3L141.0 202.5L141.5 202.5L142.0 201.8L142.5 200.8L143.0 199.8L143.5 199.2L144.0 198.7L144.5 198.3L145.0 197.8L145.5 197.5L146.0 197.2L146.5 197.1L147.0 197.1L147.5 197.2L148.0 197.4L148.5 197.7L149.0 198.0L149.5 198.4L150.0 198.9L150.5 199.5L151.0 200.3L151.5 201.1L152.0 202.0L152.5 202.9L153.0 204.0L153.5 205.2L154.0 206.4L154.5 207.5L155.0 208.8L155.5 210.3L156.0 211.8L156.5 213.2L157.0 214.4L157.5 215.3L158.0 215.7L158.5 215.5L159.0 214.9L159.5 213.9L160.0 212.9L160.5 211.9L161.0 211.2L161.5 210.6L162.0 210.0L162.5 209.4L163.0 209.0L163.5 208.8L164.0 208.5L164.5 208.4L165.0 208.2L165.5 208.1L166.0 208.0L166.5 208.0L167.0 208.1L167.5 208.4L168.0 208.7L168.5 209.0L169.0 209.5L169.5 209.9L170.0 210.4L170.5 211.1L171.0 211.9L171.5 212.8L172.0 213.8L172.5 214.8L173.0 215.8L173.5 216.9L174.0 218.0L174.5 219.2L175.0 220.5L175.5 221.8L176.0 223.1L176.5 224.4L177.0 225.5L177.5 226.8L178.0 228.1L178.5 229.5L179.0 230.8L179.5 231.9L180.0 232.8L180.5 233.4L181.0 233.5L181.5 233.2L182.0 232.7L182.5 231.9L183.0 231.1L183.5 230.3L184.0 229.6L184.5 229.2L185.0 229.0L185.5 228.7L186.0 228.5L186.5 228.3L187.0 228.1L187.5 228.0L188.0 228.0L188.5 228.1L189.0 228.2L189.5 228.5L190.0 228.7L190.5 229.0L191.0 229.4L191.5 229.8L192.0 230.4L192.5 231.0L193.0 231.7L193.5 232.3L194.0 232.9L194.5 233.6L195.0 234.3L195.5 234.9L196.0 235.5L196.5 236.0L197.0 236.2L197.5 236.1L198.0 235.7L198.5 235.2L199.0 234.6L199.5 233.9L200.0 233.2L200.5 232.7L201.0 232.2L201.5 231.7L202.0 231.2L202.5 230.7L203.0 230.3L203.5 230.0L204.0 229.8L204.5 229.6L205.0 229.4L205.5 229.3L206.0 229.1L206.5 229.0L207.0 228.9L207.5 228.9L208.0 228.9L208.5 229.0L209.0 229.0L209.5 229.2L210.0 229.1L210.5 229.2L211.0 229.4L211.5 229.8L212.0 230.0L212.5 230.1L213.0 230.4L213.5 230.5L214.0 230.7L214.5 231.5L215.0 232.5L215.5 234.0L216.0 234.3L216.5 233.9L217.0 234.6L217.5 235.4L218.0 235.8L218.5 236.7L219.0 236.8L219.5 236.8L220.0 237.9L220.5 239.0L221.0 239.4L221.5 239.8L222.0 240.9L222.5 241.3L223.0 240.5L223.5 240.4L224.0 240.5L224.5 240.7L225.0 241.1L225.5 240.2L226.0 238.9L226.5 238.5L227.0 239.1L227.5 239.6L228.0 238.7L228.5 238.0L229.0 237.9L229.5 238.0L230.0 238.0L230.5 237.2L231.0 236.7L231.5 236.5L232.0 235.9L232.5 235.7L233.0 236.1L233.5 235.9L234.0 235.2L234.5 234.8L235.0 235.0L235.5 235.9L236.0 236.4L236.5 236.7L237.0 236.8L237.5 236.7L238.0 236.6L238.5 237.0L239.0 237.1L239.5 237.0L240.0 237.6L240.5 238.0L241.0 237.7L241.5 237.6L242.0 238.5L242.5 239.0L243.0 238.4L243.5 238.1L244.0 238.6L244.5 238.7L245.0 238.3L245.5 239.0L246.0 239.7L246.5 239.6L247.0 240.2L247.5 240.2L248.0 239.8L248.5 239.6L249.0 239.3L249.5 240.2L250.0 241.1L250.5 241.2L251.0 241.6L251.5 241.7L252.0 241.7L252.5 241.1L253.0 240.2L253.5 240.8L254.0 241.3L254.5 240.8L255.0 240.8L255.5 241.3L256.0 240.9L256.5 240.3L257.0 240.8L257.5 241.4L258.0 241.3L258.5 241.7L259.0 241.9L259.5 240.9L260.0 239.8L260.5 239.7L261.0 240.5L261.5 241.1L262.0 241.1L262.5 240.9L263.0 240.7L263.5 240.6L264.0 240.5L264.5 240.1L265.0 239.6L265.5 239.5L266.0 239.8L266.5 239.9L267.0 240.2L267.5 240.9L268.0 241.7L268.5 242.5L269.0 241.9L269.5 241.0L270.0 241.2L270.5 241.1L271.0 240.9L271.5 241.1L272.0 240.1L272.5 239.4L273.0 240.4L273.5 241.2L274.0 241.4L274.5 240.8L275.0 240.7L275.5 241.3L276.0 241.0L276.5 241.3L277.0 241.9L277.5 241.5L278.0 241.2L278.5 241.4L279.0 241.4L279.5 241.2L280.0 241.5L280.5 242.3L281.0 242.5L281.5 241.5L282.0 240.9L282.5 241.3L283.0 241.4L283.5 241.4L284.0 241.8L284.5 241.8L285.0 241.3L285.5 240.5L286.0 239.9L286.5 240.7L287.0 241.8L287.5 241.3L288.0 240.6L288.5 240.8L289.0 241.5L289.5 241.4L290.0 241.1L290.5 241.6L291.0 242.0L291.5 241.8L292.0 241.8L292.5 242.4L293.0 242.2L293.5 241.5L294.0 241.2L294.5 241.5L295.0 241.9L295.5 241.9L296.0 242.2L296.5 242.5L297.0 242.6L297.5 242.4L298.0 241.3L298.5 240.7L299.0 241.5L299.5 242.2L300.0 242.1L300.5 241.9L301.0 241.5L301.5 241.1L302.0 241.5L302.5 242.2L303.0 242.0L303.5 241.2L304.0 240.9L304.5 241.7L305.0 242.5L305.5 242.1L306.0 241.8L306.5 242.6L307.0 243.0L307.5 242.8L308.0 242.7L308.5 242.7L309.0 242.5L309.5 242.1L310.0 241.9L310.5 242.4L311.0 242.8L311.5 242.3L312.0 241.4L312.5 241.9L313.0 242.4L313.5 242.0L314.0 242.1L314.5 242.4L315.0 242.1L315.5 241.6L316.0 241.9L316.5 242.6L317.0 242.7L317.5 242.2L318.0 241.9L318.5 242.2L319.0 242.1L319.5 241.2L320.0 240.9L320.5 241.3L321.0 241.2L321.5 241.3L322.0 241.9L322.5 241.8L323.0 241.6L323.5 241.5L324.0 241.3L324.5 241.3L325.0 240.9L325.5 241.0L326.0 241.8L326.5 241.6L327.0 241.3L327.5 241.6L328.0 242.0L328.5 242.0L329.0 242.1L329.5 242.2L330.0 241.7L330.5 241.4L331.0 241.8L331.5 242.6L332.0 243.0L332.5 242.8L333.0 242.2L333.5 242.0L334.0 242.2L334.5 242.1L335.0 242.4L335.5 242.3L336.0 241.7L336.5 241.7L337.0 242.3L337.5 243.4L338.0 243.6L338.5 242.5L339.0 241.4L339.5 240.9L340.0 241.5L340.5 241.7L341.0 241.6L341.5 241.7L342.0 241.3L342.5 241.5L343.0 241.7L343.5 241.6L344.0 242.3L344.5 242.4L345.0 241.2L345.5 241.1L346.0 241.9L346.5 241.8L347.0 241.3L347.5 241.5L348.0 241.8L348.5 242.1L349.0 242.5L349.5 242.8L350.0 243.3L350.5 243.3L351.0 243.0L351.5 243.0L352.0 243.1L352.5 242.4L353.0 241.8L353.5 242.2L354.0 242.7L354.5 242.9L355.0 242.6L355.5 242.4L356.0 242.7L356.5 243.0L357.0 242.5L357.5 242.0L358.0 242.0L358.5 241.9L359.0 242.0L359.5 242.2L360.0 242.7L360.5 243.0L361.0 242.3L361.5 241.9L362.0 242.1L362.5 242.1L363.0 241.5L363.5 241.4L364.0 242.0L364.5 242.3L365.0 242.1L365.5 241.6L366.0 241.6L366.5 242.5L367.0 243.0L367.5 242.7L368.0 242.4L368.5 242.1L369.0 241.7L369.5 241.6L370.0 242.0L370.5 242.2L371.0 241.9L371.5 241.8L372.0 242.8L372.5 243.2L373.0 242.5L373.5 242.3L374.0 242.5L374.5 242.2L375.0 242.0L375.5 242.4L376.0 242.6L376.5 242.7L377.0 242.4L377.5 241.9L378.0 242.2L378.5 242.3L379.0 241.8L379.5 241.6L380.0 241.4L380.5 241.5L381.0 242.5L381.5 242.8L382.0 242.6L382.5 242.5L383.0 241.9L383.5 242.3L384.0 243.2L384.5 242.5L385.0 240.5L385.5 239.7L386.0 241.1L386.5 242.3L387.0 242.1L387.5 242.1L388.0 242.2L388.5 241.9L389.0 242.3L389.5 242.7L390.0 242.7L390.5 242.3L391.0 242.1L391.5 242.2L392.0 242.4L392.5 243.4L393.0 243.6L393.5 241.9L394.0 240.8L394.5 241.5L395.0 242.5L395.5 243.1L396.0 242.8L396.5 241.9L397.0 241.9L397.5 242.4L398.0 242.3L398.5 242.4L399.0 242.6L399.5 242.7L400.0 243.0L400.5 243.0L401.0 242.6L401.5 242.0L402.0 242.1L402.5 242.4L403.0 242.7L403.5 242.9L404.0 242.2L404.5 241.6L405.0 241.6L405.5 242.1L406.0 242.3L406.5 242.3L407.0 242.7L407.5 242.6L408.0 241.9L408.5 241.6L409.0 242.2L409.5 242.2L410.0 241.8L410.5 242.8L411.0 243.5L411.5 243.0L412.0 243.2L412.5 243.9L413.0 243.3L413.5 242.1L414.0 242.0L414.5 242.1L415.0 241.6L415.5 241.2L416.0 241.9L416.5 242.2L417.0 242.2L417.5 242.5L418.0 242.6L418.5 242.2L419.0 241.9L419.5 242.7L420.0 243.0L420.5 242.8L421.0 243.0L421.5 242.6L422.0 242.5L422.5 242.7L423.0 242.5L423.5 242.5L424.0 242.4L424.5 242.1L425.0 241.6L425.5 241.8L426.0 242.7L426.5 242.7L427.0 242.4" fill="none" stroke="#1a1a9a" stroke-width="3.1" stroke-linejoin="round"/>
<path d="M102.0 201.3L102.5 199.6L103.0 197.9L103.5 196.4L104.0 195.0L104.5 193.7L105.0 192.4L105.5 191.3L106.0 190.3L106.5 189.5L107.0 188.8L107.5 188.1L108.0 187.5L108.5 186.9L109.0 186.5L109.5 186.1L110.0 185.7L110.5 185.4L111.0 185.1L111.5 184.8L112.0 184.5L112.5 184.3L113.0 184.2L113.5 184.0L114.0 183.9L114.5 183.8L115.0 183.7L115.5 183.7L116.0 183.6L116.5 183.5L117.0 183.5L117.5 183.4L118.0 183.4L118.5 183.4L119.0 183.3L119.5 183.3L120.0 183.3L120.5 183.3L121.0 183.2L121.5 183.2L122.0 183.2L122.5 183.2L123.0 183.2L123.5 183.2L124.0 183.1L124.5 183.1L125.0 183.1L125.5 183.1L126.0 183.1L126.5 183.1L127.0 183.1L127.5 183.1L128.0 183.1L128.5 183.2L129.0 183.2L129.5 183.2L130.0 183.3L130.5 183.4L131.0 183.7L131.5 183.9L132.0 184.2L132.5 184.5L133.0 184.9L133.5 185.3L134.0 185.8L134.5 186.3L135.0 186.9L135.5 187.6L136.0 188.3L136.5 189.1L137.0 190.0L137.5 191.1L138.0 192.4L138.5 193.8L139.0 195.3L139.5 197.1L140.0 199.3L140.5 201.3L141.0 202.5L141.5 202.5L142.0 201.8L142.5 200.8L143.0 199.8L143.5 199.2L144.0 198.7L144.5 198.3L145.0 197.8L145.5 197.5L146.0 197.2L146.5 197.1L147.0 197.1L147.5 197.2L148.0 197.4L148.5 197.7L149.0 198.0L149.5 198.4L150.0 198.9L150.5 199.5L151.0 200.3L151.5 201.1L152.0 202.0L152.5 202.9L153.0 204.0L153.5 205.2L154.0 206.4L154.5 207.5L155.0 208.8L155.5 210.3L156.0 211.8L156.5 213.2L157.0 214.4L157.5 215.3L158.0 215.7L158.5 215.5L159.0 214.9L159.5 213.9L160.0 212.9L160.5 211.9L161.0 211.2L161.5 210.6L162.0 210.0L162.5 209.4L163.0 209.0L163.5 208.8L164.0 208.5L164.5 208.4L165.0 208.2L165.5 208.1L166.0 208.0L166.5 208.0L167.0 208.1L167.5 208.4L168.0 208.7L168.5 209.0L169.0 209.5L169.5 209.9L170.0 210.4L170.5 211.1L171.0 211.9L171.5 212.8L172.0 213.8L172.5 214.8L173.0 215.8L173.5 216.9L174.0 218.0L174.5 219.2L175.0 220.5L175.5 221.8L176.0 223.1L176.5 224.4L177.0 225.5L177.5 226.8L178.0 228.1L178.5 229.5L179.0 230.8L179.5 231.9L180.0 232.8L180.5 233.4L181.0 233.5L181.5 233.2L182.0 232.7L182.5 231.9L183.0 231.1L183.5 230.3L184.0 229.6L184.5 229.2L185.0 229.0L185.5 228.7L186.0 228.5L186.5 228.3L187.0 228.1L187.5 228.0L188.0 228.0L188.5 228.1L189.0 228.2L189.5 228.5L190.0 228.7L190.5 229.0L191.0 229.4L191.5 229.8L192.0 230.4L192.5 231.0L193.0 231.7L193.5 232.3L194.0 232.9L194.5 233.6L195.0 234.3L195.5 234.9L196.0 235.5L196.5 236.0L197.0 236.2L197.5 236.1L198.0 235.7L198.5 235.2L199.0 234.6L199.5 233.9L200.0 233.2L200.5 232.7L201.0 232.2L201.5 231.7L202.0 231.2L202.5 230.7L203.0 230.3L203.5 230.0L204.0 229.8L204.5 229.6L205.0 229.4L205.5 229.3L206.0 229.1L206.5 229.0L207.0 228.9L207.5 228.9L208.0 228.9L208.5 229.0L209.0 229.0L209.5 229.2L210.0 229.3L210.5 229.5L211.0 229.7L211.5 229.8L212.0 230.1L212.5 230.5L213.0 230.9L213.5 231.3L214.0 231.9L214.5 232.4L215.0 232.9L215.5 233.4L216.0 233.9L216.5 234.5L217.0 235.1L217.5 235.6L218.0 236.2L218.5 236.8L219.0 237.4L219.5 237.9L220.0 238.5L220.5 239.1L221.0 239.7L221.5 240.3L222.0 240.7L222.5 241.0L223.0 241.1L223.5 241.0L224.0 240.8L224.5 240.6L225.0 240.3L225.5 240.0L226.0 239.6L226.5 239.3L227.0 239.0L227.5 238.8L228.0 238.5L228.5 238.3L229.0 238.0L229.5 237.8L230.0 237.5L230.5 237.3L231.0 237.1L231.5 236.9L232.0 236.7L232.5 236.5L233.0 236.4L233.5 236.3L234.0 236.2L234.5 236.2L235.0 236.2L235.5 236.3L236.0 236.4L236.5 236.5L237.0 236.6L237.5 236.8L238.0 236.9L238.5 237.1L239.0 237.3L239.5 237.5L240.0 237.7L240.5 237.9L241.0 238.1L241.5 238.2L242.0 238.4L242.5 238.6L243.0 238.7L243.5 238.9L244.0 239.1L244.5 239.3L245.0 239.5L245.5 239.7L246.0 239.8L246.5 240.0L247.0 240.2L247.5 240.3L248.0 240.5L248.5 240.7L249.0 240.8L249.5 241.0L250.0 241.2L250.5 241.3L251.0 241.5L251.5 241.6L252.0 241.8L252.5 241.9L253.0 242.0L253.5 242.1L254.0 242.2L254.5 242.2L255.0 242.2L255.5 242.1L256.0 242.1L256.5 242.0L257.0 241.8L257.5 241.7L258.0 241.6L258.5 241.4L259.0 241.3L259.5 241.2L260.0 241.1L260.5 241.0L261.0 241.0L261.5 241.0L262.0 241.0L262.5 241.0L263.0 241.0L263.5 241.0L264.0 241.0L264.5 241.0L265.0 241.0L265.5 241.0L266.0 241.0L266.5 241.0L267.0 241.1L267.5 241.1L268.0 241.1L268.5 241.1L269.0 241.1L269.5 241.1L270.0 241.1L270.5 241.1L271.0 241.1L271.5 241.1L272.0 241.1L272.5 241.2L273.0 241.2L273.5 241.2L274.0 241.2L274.5 241.2L275.0 241.2L275.5 241.3L276.0 241.3L276.5 241.3L277.0 241.3L277.5 241.3L278.0 241.4L278.5 241.4L279.0 241.4L279.5 241.4L280.0 241.4L280.5 241.5L281.0 241.5L281.5 241.5L282.0 241.5L282.5 241.5L283.0 241.5L283.5 241.6L284.0 241.6L284.5 241.6L285.0 241.6L285.5 241.6L286.0 241.6L286.5 241.6L287.0 241.6L287.5 241.7L288.0 241.7L288.5 241.7L289.0 241.7L289.5 241.7L290.0 241.7L290.5 241.7L291.0 241.7L291.5 241.8L292.0 241.8L292.5 241.8L293.0 241.8L293.5 241.8L294.0 241.8L294.5 241.8L295.0 241.8L295.5 241.8L296.0 241.8L296.5 241.8L297.0 241.9L297.5 241.9L298.0 241.9L298.5 241.9L299.0 241.9L299.5 241.9L300.0 241.9L300.5 241.9L301.0 241.9L301.5 241.9L302.0 241.9L302.5 241.9L303.0 241.9L303.5 241.9L304.0 241.9L304.5 242.0L305.0 242.0L305.5 242.0L306.0 242.0L306.5 242.0L307.0 242.0L307.5 242.0L308.0 242.0L308.5 242.0L309.0 242.0L309.5 242.0L310.0 242.0L310.5 242.0L311.0 242.0L311.5 242.0L312.0 242.0L312.5 242.0L313.0 242.0L313.5 242.0L314.0 242.0L314.5 242.1L315.0 242.1L315.5 242.1L316.0 242.1L316.5 242.1L317.0 242.1L317.5 242.1L318.0 242.1L318.5 242.1L319.0 242.1L319.5 242.1L320.0 242.1L320.5 242.1L321.0 242.1L321.5 242.1L322.0 242.1L322.5 242.1L323.0 242.1L323.5 242.1L324.0 242.1L324.5 242.1L325.0 242.1L325.5 242.1L326.0 242.1L326.5 242.1L327.0 242.2L327.5 242.2L328.0 242.2L328.5 242.2L329.0 242.2L329.5 242.2L330.0 242.2L330.5 242.2L331.0 242.2L331.5 242.2L332.0 242.2L332.5 242.2L333.0 242.2L333.5 242.2L334.0 242.2L334.5 242.2L335.0 242.2L335.5 242.2L336.0 242.2L336.5 242.2L337.0 242.2L337.5 242.2L338.0 242.2L338.5 242.2L339.0 242.2L339.5 242.2L340.0 242.2L340.5 242.2L341.0 242.2L341.5 242.2L342.0 242.2L342.5 242.3L343.0 242.3L343.5 242.3L344.0 242.3L344.5 242.3L345.0 242.3L345.5 242.3L346.0 242.3L346.5 242.3L347.0 242.3L347.5 242.3L348.0 242.3L348.5 242.3L349.0 242.3L349.5 242.3L350.0 242.3L350.5 242.3L351.0 242.3L351.5 242.3L352.0 242.3L352.5 242.3L353.0 242.3L353.5 242.3L354.0 242.3L354.5 242.3L355.0 242.3L355.5 242.3L356.0 242.3L356.5 242.3L357.0 242.3L357.5 242.3L358.0 242.4L358.5 242.4L359.0 242.4L359.5 242.4L360.0 242.4L360.5 242.4L361.0 242.4L361.5 242.4L362.0 242.4L362.5 242.4L363.0 242.4L363.5 242.4L364.0 242.4L364.5 242.4L365.0 242.4L365.5 242.4L366.0 242.4L366.5 242.4L367.0 242.4L367.5 242.4L368.0 242.4L368.5 242.4L369.0 242.4L369.5 242.4L370.0 242.4L370.5 242.4L371.0 242.4L371.5 242.4L372.0 242.4L372.5 242.4L373.0 242.4L373.5 242.4L374.0 242.4L374.5 242.4L375.0 242.5L375.5 242.5L376.0 242.5L376.5 242.5L377.0 242.5L377.5 242.5L378.0 242.5L378.5 242.5L379.0 242.5L379.5 242.5L380.0 242.5L380.5 242.5L381.0 242.5L381.5 242.5L382.0 242.5L382.5 242.5L383.0 242.5L383.5 242.5L384.0 242.5L384.5 242.5L385.0 242.5L385.5 242.5L386.0 242.5L386.5 242.5L387.0 242.5L387.5 242.5L388.0 242.5L388.5 242.5L389.0 242.5L389.5 242.5L390.0 242.5L390.5 242.5L391.0 242.5L391.5 242.5L392.0 242.5L392.5 242.5L393.0 242.6L393.5 242.6L394.0 242.6L394.5 242.6L395.0 242.6L395.5 242.6L396.0 242.6L396.5 242.6L397.0 242.6L397.5 242.6L398.0 242.6L398.5 242.6L399.0 242.6L399.5 242.6L400.0 242.6L400.5 242.6L401.0 242.6L401.5 242.6L402.0 242.6L402.5 242.6L403.0 242.6L403.5 242.6L404.0 242.6L404.5 242.6L405.0 242.6L405.5 242.6L406.0 242.6L406.5 242.6L407.0 242.6L407.5 242.6L408.0 242.6L408.5 242.6L409.0 242.6L409.5 242.6L410.0 242.6L410.5 242.6L411.0 242.6L411.5 242.6L412.0 242.6L412.5 242.6L413.0 242.6L413.5 242.6L414.0 242.6L414.5 242.7L415.0 242.7L415.5 242.7L416.0 242.7L416.5 242.7L417.0 242.7L417.5 242.7L418.0 242.7L418.5 242.7L419.0 242.7L419.5 242.7L420.0 242.7L420.5 242.7L421.0 242.7L421.5 242.7L422.0 242.7L422.5 242.7L423.0 242.7L423.5 242.7L424.0 242.7L424.5 242.7L425.0 242.7L425.5 242.7L426.0 242.7L426.5 242.7L427.0 242.7" fill="none" stroke="#e8141c" stroke-width="1.4" stroke-linejoin="round"/>
<rect x="95" y="6" width="332" height="254.3" fill="none" stroke="#000" stroke-width="1.35"/>
<path d="M101.00 260.3V255.80M101.00 6V10.50M117.33 260.3V257.80M117.33 6V8.50M133.65 260.3V255.80M133.65 6V10.50M149.97 260.3V257.80M149.97 6V8.50M166.30 260.3V255.80M166.30 6V10.50M182.62 260.3V257.80M182.62 6V8.50M198.95 260.3V255.80M198.95 6V10.50M215.27 260.3V257.80M215.27 6V8.50M231.60 260.3V255.80M231.60 6V10.50M247.92 260.3V257.80M247.92 6V8.50M264.25 260.3V255.80M264.25 6V10.50M280.57 260.3V257.80M280.57 6V8.50M296.90 260.3V255.80M296.90 6V10.50M313.23 260.3V257.80M313.23 6V8.50M329.55 260.3V255.80M329.55 6V10.50M345.88 260.3V257.80M345.88 6V8.50M362.20 260.3V255.80M362.20 6V10.50M378.52 260.3V257.80M378.52 6V8.50M394.85 260.3V255.80M394.85 6V10.50M411.18 260.3V257.80M411.18 6V8.50M427.50 260.3V255.80M427.50 6V10.50M95 22.62H99.50M427 22.62H422.50M95 17.50H97.50M427 17.50H424.50M95 14.50H97.50M427 14.50H424.50M95 12.37H97.50M427 12.37H424.50M95 10.72H97.50M427 10.72H424.50M95 9.38H97.50M427 9.38H424.50M95 8.24H97.50M427 8.24H424.50M95 7.25H97.50M427 7.25H424.50M95 39.64H99.50M427 39.64H422.50M95 34.52H97.50M427 34.52H424.50M95 31.52H97.50M427 31.52H424.50M95 29.39H97.50M427 29.39H424.50M95 27.74H97.50M427 27.74H424.50M95 26.40H97.50M427 26.40H424.50M95 25.26H97.50M427 25.26H424.50M95 24.27H97.50M427 24.27H424.50M95 23.40H97.50M427 23.40H424.50M95 56.66H99.50M427 56.66H422.50M95 51.54H97.50M427 51.54H424.50M95 48.54H97.50M427 48.54H424.50M95 46.41H97.50M427 46.41H424.50M95 44.76H97.50M427 44.76H424.50M95 43.42H97.50M427 43.42H424.50M95 42.28H97.50M427 42.28H424.50M95 41.29H97.50M427 41.29H424.50M95 40.42H97.50M427 40.42H424.50M95 73.68H99.50M427 73.68H422.50M95 68.56H97.50M427 68.56H424.50M95 65.56H97.50M427 65.56H424.50M95 63.43H97.50M427 63.43H424.50M95 61.78H97.50M427 61.78H424.50M95 60.44H97.50M427 60.44H424.50M95 59.30H97.50M427 59.30H424.50M95 58.31H97.50M427 58.31H424.50M95 57.44H97.50M427 57.44H424.50M95 90.70H99.50M427 90.70H422.50M95 85.58H97.50M427 85.58H424.50M95 82.58H97.50M427 82.58H424.50M95 80.45H97.50M427 80.45H424.50M95 78.80H97.50M427 78.80H424.50M95 77.46H97.50M427 77.46H424.50M95 76.32H97.50M427 76.32H424.50M95 75.33H97.50M427 75.33H424.50M95 74.46H97.50M427 74.46H424.50M95 107.72H99.50M427 107.72H422.50M95 102.60H97.50M427 102.60H424.50M95 99.60H97.50M427 99.60H424.50M95 97.47H97.50M427 97.47H424.50M95 95.82H97.50M427 95.82H424.50M95 94.48H97.50M427 94.48H424.50M95 93.34H97.50M427 93.34H424.50M95 92.35H97.50M427 92.35H424.50M95 91.48H97.50M427 91.48H424.50M95 124.74H99.50M427 124.74H422.50M95 119.62H97.50M427 119.62H424.50M95 116.62H97.50M427 116.62H424.50M95 114.49H97.50M427 114.49H424.50M95 112.84H97.50M427 112.84H424.50M95 111.50H97.50M427 111.50H424.50M95 110.36H97.50M427 110.36H424.50M95 109.37H97.50M427 109.37H424.50M95 108.50H97.50M427 108.50H424.50M95 141.76H99.50M427 141.76H422.50M95 136.64H97.50M427 136.64H424.50M95 133.64H97.50M427 133.64H424.50M95 131.51H97.50M427 131.51H424.50M95 129.86H97.50M427 129.86H424.50M95 128.52H97.50M427 128.52H424.50M95 127.38H97.50M427 127.38H424.50M95 126.39H97.50M427 126.39H424.50M95 125.52H97.50M427 125.52H424.50M95 158.78H99.50M427 158.78H422.50M95 153.66H97.50M427 153.66H424.50M95 150.66H97.50M427 150.66H424.50M95 148.53H97.50M427 148.53H424.50M95 146.88H97.50M427 146.88H424.50M95 145.54H97.50M427 145.54H424.50M95 144.40H97.50M427 144.40H424.50M95 143.41H97.50M427 143.41H424.50M95 142.54H97.50M427 142.54H424.50M95 175.80H99.50M427 175.80H422.50M95 170.68H97.50M427 170.68H424.50M95 167.68H97.50M427 167.68H424.50M95 165.55H97.50M427 165.55H424.50M95 163.90H97.50M427 163.90H424.50M95 162.56H97.50M427 162.56H424.50M95 161.42H97.50M427 161.42H424.50M95 160.43H97.50M427 160.43H424.50M95 159.56H97.50M427 159.56H424.50M95 192.82H99.50M427 192.82H422.50M95 187.70H97.50M427 187.70H424.50M95 184.70H97.50M427 184.70H424.50M95 182.57H97.50M427 182.57H424.50M95 180.92H97.50M427 180.92H424.50M95 179.58H97.50M427 179.58H424.50M95 178.44H97.50M427 178.44H424.50M95 177.45H97.50M427 177.45H424.50M95 176.58H97.50M427 176.58H424.50M95 209.84H99.50M427 209.84H422.50M95 204.72H97.50M427 204.72H424.50M95 201.72H97.50M427 201.72H424.50M95 199.59H97.50M427 199.59H424.50M95 197.94H97.50M427 197.94H424.50M95 196.60H97.50M427 196.60H424.50M95 195.46H97.50M427 195.46H424.50M95 194.47H97.50M427 194.47H424.50M95 193.60H97.50M427 193.60H424.50M95 226.86H99.50M427 226.86H422.50M95 221.74H97.50M427 221.74H424.50M95 218.74H97.50M427 218.74H424.50M95 216.61H97.50M427 216.61H424.50M95 214.96H97.50M427 214.96H424.50M95 213.62H97.50M427 213.62H424.50M95 212.48H97.50M427 212.48H424.50M95 211.49H97.50M427 211.49H424.50M95 210.62H97.50M427 210.62H424.50M95 243.88H99.50M427 243.88H422.50M95 238.76H97.50M427 238.76H424.50M95 235.76H97.50M427 235.76H424.50M95 233.63H97.50M427 233.63H424.50M95 231.98H97.50M427 231.98H424.50M95 230.64H97.50M427 230.64H424.50M95 229.50H97.50M427 229.50H424.50M95 228.51H97.50M427 228.51H424.50M95 227.64H97.50M427 227.64H424.50M95 260.90H99.50M427 260.90H422.50M95 255.78H97.50M427 255.78H424.50M95 252.78H97.50M427 252.78H424.50M95 250.65H97.50M427 250.65H424.50M95 249.00H97.50M427 249.00H424.50M95 247.66H97.50M427 247.66H424.50M95 246.52H97.50M427 246.52H424.50M95 245.53H97.50M427 245.53H424.50M95 244.66H97.50M427 244.66H424.50" stroke="#000" stroke-width="1.1" fill="none"/>
<text x="101.20" y="276.8" font-size="13.5" text-anchor="middle">0</text>
<text x="133.85" y="276.8" font-size="13.5" text-anchor="middle">1</text>
<text x="166.50" y="276.8" font-size="13.5" text-anchor="middle">2</text>
<text x="199.15" y="276.8" font-size="13.5" text-anchor="middle">3</text>
<text x="231.80" y="276.8" font-size="13.5" text-anchor="middle">4</text>
<text x="264.45" y="276.8" font-size="13.5" text-anchor="middle">5</text>
<text x="297.10" y="276.8" font-size="13.5" text-anchor="middle">6</text>
<text x="329.75" y="276.8" font-size="13.5" text-anchor="middle">7</text>
<text x="362.40" y="276.8" font-size="13.5" text-anchor="middle">8</text>
<text x="395.05" y="276.8" font-size="13.5" text-anchor="middle">9</text>
<text x="427.70" y="276.8" font-size="13.5" text-anchor="middle">10</text>
<text transform="translate(231.00 302.20) scale(1.100 1)" font-size="15.00">2θ (deg)</text>
<text transform="translate(82.0 183.0) rotate(-90)" font-size="15.8">Intenisty (a.u.)</text>
<text transform="translate(101.05 25.20) scale(1.000 1)" font-size="14.00">Sample A</text>
<text transform="translate(103.20 97.20) scale(1.000 1)" font-size="14.00">Sample B</text>
<text transform="translate(101.00 174.00) scale(1.000 1)" font-size="14.00">Sample C</text>
<text transform="translate(324.20 38.30) scale(1.023 1)" font-size="12.00" text-anchor="middle">4x Co(0.5) / CoO(0.7) / Pt(0.4 nm)</text>
<text transform="translate(323.20 53.00) scale(1.000 1)" font-size="12.00" text-anchor="middle">+</text>
<text transform="translate(322.65 67.60) scale(1.040 1)" font-size="12.00" text-anchor="middle">Magnetic substrate</text>
<text transform="translate(324.25 123.50) scale(1.023 1)" font-size="12.00" text-anchor="middle">4x Co(0.5) / CoO(0.7) / Pt(0.4 nm)</text>
<text transform="translate(299.70 195.20) scale(1.026 1)" font-size="12.00" text-anchor="middle">2x Co(0.5) / CoO(0.7) / Co(0.3) / Pt(0.4 nm)</text>
</g>
<rect x="24.20" y="307.00" width="87.60" height="21.30" fill="#fba936"/>
<rect x="24.20" y="328.30" width="87.60" height="6.20" fill="#86d6f8"/>
<rect x="24.20" y="334.50" width="87.60" height="4.60" fill="#0981d2"/>
<rect x="24.20" y="339.10" width="87.60" height="3.30" fill="#fba936"/>
<rect x="24.20" y="342.40" width="87.60" height="6.20" fill="#86d6f8"/>
<rect x="24.20" y="348.60" width="87.60" height="4.60" fill="#0981d2"/>
<rect x="24.20" y="353.20" width="87.60" height="3.30" fill="#fba936"/>
<rect x="24.20" y="356.50" width="87.60" height="6.20" fill="#86d6f8"/>
<rect x="24.20" y="362.70" width="87.60" height="4.60" fill="#0981d2"/>
<rect x="24.20" y="367.30" width="87.60" height="3.30" fill="#fba936"/>
<rect x="24.20" y="370.60" width="87.60" height="6.20" fill="#86d6f8"/>
<rect x="24.20" y="376.80" width="87.60" height="4.60" fill="#0981d2"/>
<rect x="24.20" y="380.70" width="87.60" height="3.50" fill="#fba936"/>
<rect x="24.20" y="384.20" width="87.60" height="2.80" fill="#0981d2"/>
<rect x="24.20" y="387.00" width="87.60" height="9.30" fill="#fba936"/>
<rect x="24.20" y="396.30" width="87.60" height="2.30" fill="#0981d2"/>
<rect x="24.20" y="398.60" width="87.60" height="9.00" fill="#fba936"/>
<rect x="24.20" y="407.60" width="87.60" height="2.30" fill="#0981d2"/>
<rect x="24.20" y="409.90" width="87.60" height="9.20" fill="#fba936"/>
<rect x="24.20" y="419.10" width="87.60" height="2.20" fill="#0981d2"/>
<rect x="24.20" y="421" width="87.60" height="20.3" fill="url(#buf)"/>
<rect x="24.20" y="441.3" width="87.60" height="17" fill="url(#sio)"/>
<rect x="24.20" y="458.3" width="87.60" height="25" fill="url(#si)"/>
<text x="68.00" y="433.4" font-size="7.4" font-weight="bold" fill="#2a2a2a" text-anchor="middle">8.0 nm Pt</text>
<text x="68.00" y="452.6" font-size="7.4" font-weight="bold" fill="#2a2a2a" text-anchor="middle">native SiO<tspan font-size="5" dy="1.2">x</tspan></text>
<text x="68.00" y="473.5" font-size="7.4" font-weight="bold" fill="#fff" text-anchor="middle">Si</text>
<text x="68.00" y="320.7" font-size="7.4" font-weight="bold" fill="#2a2a2a" text-anchor="middle">2.5 nm Pt</text>
<text x="68.00" y="393.50" font-size="7.4" font-weight="bold" fill="#2a2a2a" text-anchor="middle">1.0 nm Pt</text>
<text x="68.00" y="404.80" font-size="7.4" font-weight="bold" fill="#2a2a2a" text-anchor="middle">1.0 nm Pt</text>
<text x="68.00" y="416.30" font-size="7.4" font-weight="bold" fill="#2a2a2a" text-anchor="middle">1.0 nm Pt</text>
<path d="M24.20 328.50H111.80" stroke="#333" stroke-width="0.9" stroke-dasharray="1 1" fill="none"/>
<path d="M5.00 380.80H111.80" stroke="#333" stroke-width="0.9" stroke-dasharray="1 1" fill="none"/>
<path d="M5.00 421.20H111.80" stroke="#333" stroke-width="0.9" stroke-dasharray="1 1" fill="none"/>
<path d="M5.00 441.30H111.80" stroke="#333" stroke-width="0.9" stroke-dasharray="1 1" fill="none"/>
<path d="M111.80 325.20A7.05 7.05 0 0 1 111.80 339.30" stroke="#2a2a2a" stroke-width="1.0" stroke-dasharray="1.2 0.8" fill="none"/>
<path d="M111.80 339.30A6.25 6.25 0 0 1 111.80 351.80" stroke="#2a2a2a" stroke-width="1.0" stroke-dasharray="1.2 0.8" fill="none"/>
<path d="M111.80 351.80A7.55 7.55 0 0 1 111.80 366.90" stroke="#2a2a2a" stroke-width="1.0" stroke-dasharray="1.2 0.8" fill="none"/>
<path d="M111.80 366.90A6.95 6.95 0 0 1 111.80 380.80" stroke="#2a2a2a" stroke-width="1.0" stroke-dasharray="1.2 0.8" fill="none"/>
<path d="M5.20 333.60H14.20C16.20 333.60 17.20 328.50 20.70 328.50" stroke="#333" stroke-width="0.8" stroke-dasharray="1 0.7" fill="none"/>
<path d="M20.70 328.50H24.20" stroke="#333" stroke-width="0.9" stroke-dasharray="1 1" fill="none"/>
<text transform="translate(12.20 320.20) rotate(-90)" font-size="7.4" fill="#333" text-anchor="middle">capping</text>
<text transform="translate(13.40 401.00) rotate(-90)" font-size="7.4" fill="#333" text-anchor="middle">magnetic</text>
<text transform="translate(21.40 401.00) rotate(-90)" font-size="7.4" fill="#333" text-anchor="middle">substrate</text>
<text transform="translate(12.70 431.50) rotate(-90)" font-size="7.4" fill="#333" text-anchor="middle">buffer</text>
<text transform="translate(13.20 463.00) rotate(-90)" font-size="7.4" fill="#333" text-anchor="middle">substrate</text>
<path d="M111.80 340.50L120.30 340.50L128.60 331.80L137.80 331.80" stroke="#fba936" stroke-width="1.4" fill="none"/>
<text x="139.50" y="334.40" font-size="7.4" font-weight="bold" fill="#2a2a2a">0.4 nm Pt</text>
<path d="M111.80 345.30L137.80 345.30" stroke="#86d6f8" stroke-width="1.4" fill="none"/>
<text x="139.50" y="347.90" font-size="7.4" font-weight="bold" fill="#2a2a2a">0.7 nm CoO</text>
<path d="M111.80 350.20L120.50 350.20L129.20 359.30L137.80 359.30" stroke="#0981d2" stroke-width="1.4" fill="none"/>
<text x="139.50" y="361.90" font-size="7.4" font-weight="bold" fill="#2a2a2a">0.5 nm Co</text>
<path d="M111.80 382.40L137.80 382.40" stroke="#fba936" stroke-width="1.4" fill="none"/>
<text x="139.50" y="385.20" font-size="7.4" font-weight="bold" fill="#2a2a2a">0.4 nm Pt</text>
<path d="M111.80 385.60L119.60 385.60L131.30 414.40L137.80 414.40" stroke="#0981d2" stroke-width="1.4" fill="none"/>
<path d="M111.80 397.40L119.00 397.40L130.60 415.90L137.80 415.90" stroke="#0981d2" stroke-width="1.4" fill="none"/>
<path d="M111.80 408.70L119.60 408.70L130.00 417.30L137.80 417.30" stroke="#0981d2" stroke-width="1.4" fill="none"/>
<path d="M111.80 419.50L130.00 419.00L137.80 418.80" stroke="#0981d2" stroke-width="1.4" fill="none"/>
<text x="139.50" y="419.60" font-size="7.4" font-weight="bold" fill="#2a2a2a">0.3 nm Co</text>
<text x="68.3" y="500.1" font-size="10" font-weight="bold" fill="#1a1a1a" stroke="#1a1a1a" stroke-width="0.2" text-anchor="middle">Sample A</text>
<rect x="208.20" y="347.10" width="86.70" height="21.80" fill="#fba936"/>
<rect x="208.20" y="368.90" width="86.70" height="6.20" fill="#86d6f8"/>
<rect x="208.20" y="375.10" width="86.70" height="4.60" fill="#0981d2"/>
<rect x="208.20" y="379.70" width="86.70" height="3.30" fill="#fba936"/>
<rect x="208.20" y="383.00" width="86.70" height="6.20" fill="#86d6f8"/>
<rect x="208.20" y="389.20" width="86.70" height="4.60" fill="#0981d2"/>
<rect x="208.20" y="393.80" width="86.70" height="3.30" fill="#fba936"/>
<rect x="208.20" y="397.10" width="86.70" height="6.20" fill="#86d6f8"/>
<rect x="208.20" y="403.30" width="86.70" height="4.60" fill="#0981d2"/>
<rect x="208.20" y="407.90" width="86.70" height="3.30" fill="#fba936"/>
<rect x="208.20" y="411.20" width="86.70" height="6.20" fill="#86d6f8"/>
<rect x="208.20" y="417.40" width="86.70" height="4.60" fill="#0981d2"/>
<rect x="208.20" y="421" width="86.70" height="20.3" fill="url(#buf)"/>
<rect x="208.20" y="441.3" width="86.70" height="17" fill="url(#sio)"/>
<rect x="208.20" y="458.3" width="86.70" height="25" fill="url(#si)"/>
<text x="251.55" y="433.4" font-size="7.4" font-weight="bold" fill="#2a2a2a" text-anchor="middle">8.0 nm Pt</text>
<text x="251.55" y="452.6" font-size="7.4" font-weight="bold" fill="#2a2a2a" text-anchor="middle">native SiO<tspan font-size="5" dy="1.2">x</tspan></text>
<text x="251.55" y="473.5" font-size="7.4" font-weight="bold" fill="#fff" text-anchor="middle">Si</text>
<text x="251.55" y="360.8" font-size="7.4" font-weight="bold" fill="#2a2a2a" text-anchor="middle">2.5 nm Pt</text>
<path d="M208.20 369.10H294.90" stroke="#333" stroke-width="0.9" stroke-dasharray="1 1" fill="none"/>
<path d="M189.00 421.10H294.90" stroke="#333" stroke-width="0.9" stroke-dasharray="1 1" fill="none"/>
<path d="M189.00 441.30H294.90" stroke="#333" stroke-width="0.9" stroke-dasharray="1 1" fill="none"/>
<path d="M294.90 364.20A7.65 7.65 0 0 1 294.90 379.50" stroke="#2a2a2a" stroke-width="1.0" stroke-dasharray="1.2 0.8" fill="none"/>
<path d="M294.90 379.50A6.85 6.85 0 0 1 294.90 393.20" stroke="#2a2a2a" stroke-width="1.0" stroke-dasharray="1.2 0.8" fill="none"/>
<path d="M294.90 393.20A7.50 7.50 0 0 1 294.90 408.20" stroke="#2a2a2a" stroke-width="1.0" stroke-dasharray="1.2 0.8" fill="none"/>
<path d="M294.90 408.20A6.40 6.40 0 0 1 294.90 421.00" stroke="#2a2a2a" stroke-width="1.0" stroke-dasharray="1.2 0.8" fill="none"/>
<path d="M189.00 373.40H198.00C200.00 373.40 201.00 369.10 204.50 369.10" stroke="#333" stroke-width="0.8" stroke-dasharray="1 0.7" fill="none"/>
<path d="M204.50 369.10H208.20" stroke="#333" stroke-width="0.9" stroke-dasharray="1 1" fill="none"/>
<text transform="translate(196.10 360.50) rotate(-90)" font-size="7.4" fill="#333" text-anchor="middle">capping</text>
<text transform="translate(196.10 431.50) rotate(-90)" font-size="7.4" fill="#333" text-anchor="middle">buffer</text>
<text transform="translate(196.70 463.00) rotate(-90)" font-size="7.4" fill="#333" text-anchor="middle">substrate</text>
<path d="M294.90 408.60L303.90 408.60L312.60 400.30L321.30 400.30" stroke="#fba936" stroke-width="1.4" fill="none"/>
<text x="323.00" y="402.90" font-size="7.4" font-weight="bold" fill="#2a2a2a">0.4 nm Pt</text>
<path d="M294.90 413.60L321.30 413.60" stroke="#86d6f8" stroke-width="1.4" fill="none"/>
<text x="323.00" y="416.20" font-size="7.4" font-weight="bold" fill="#2a2a2a">0.7 nm CoO</text>
<path d="M294.90 418.50L304.70 418.50L313.40 427.80L321.30 427.80" stroke="#0981d2" stroke-width="1.4" fill="none"/>
<text x="323.00" y="430.40" font-size="7.4" font-weight="bold" fill="#2a2a2a">0.5 nm Co</text>
<text x="252.2" y="499.8" font-size="10" font-weight="bold" fill="#1a1a1a" stroke="#1a1a1a" stroke-width="0.2" text-anchor="middle">Sample B</text>
<rect x="391.10" y="369.90" width="87.70" height="21.20" fill="#fba936"/>
<rect x="391.10" y="391.10" width="87.70" height="2.50" fill="#0981d2"/>
<rect x="391.10" y="393.60" width="87.70" height="6.50" fill="#86d6f8"/>
<rect x="391.10" y="400.10" width="87.70" height="4.50" fill="#0981d2"/>
<rect x="391.10" y="404.60" width="87.70" height="3.20" fill="#fba936"/>
<rect x="391.10" y="407.80" width="87.70" height="2.70" fill="#0981d2"/>
<rect x="391.10" y="410.50" width="87.70" height="6.40" fill="#86d6f8"/>
<rect x="391.10" y="416.90" width="87.70" height="4.10" fill="#0981d2"/>
<rect x="391.10" y="421" width="87.70" height="20.3" fill="url(#buf)"/>
<rect x="391.10" y="441.3" width="87.70" height="17" fill="url(#sio)"/>
<rect x="391.10" y="458.3" width="87.70" height="25" fill="url(#si)"/>
<text x="434.95" y="433.4" font-size="7.4" font-weight="bold" fill="#2a2a2a" text-anchor="middle">8.0 nm Pt</text>
<text x="434.95" y="452.6" font-size="7.4" font-weight="bold" fill="#2a2a2a" text-anchor="middle">native SiO<tspan font-size="5" dy="1.2">x</tspan></text>
<text x="434.95" y="473.5" font-size="7.4" font-weight="bold" fill="#fff" text-anchor="middle">Si</text>
<text x="434.95" y="383.6" font-size="7.4" font-weight="bold" fill="#2a2a2a" text-anchor="middle">2.5 nm Pt</text>
<path d="M391.10 391.20H478.80" stroke="#333" stroke-width="0.9" stroke-dasharray="1 1" fill="none"/>
<path d="M372.00 420.90H478.80" stroke="#333" stroke-width="0.9" stroke-dasharray="1 1" fill="none"/>
<path d="M372.00 441.30H478.80" stroke="#333" stroke-width="0.9" stroke-dasharray="1 1" fill="none"/>
<path d="M478.80 390.80A7.70 7.70 0 0 1 478.80 406.20" stroke="#2a2a2a" stroke-width="1.0" stroke-dasharray="1.2 0.8" fill="none"/>
<path d="M478.80 407.80A6.70 6.70 0 0 1 478.80 421.20" stroke="#2a2a2a" stroke-width="1.0" stroke-dasharray="1.2 0.8" fill="none"/>
<path d="M372.00 396.30H381.00C383.00 396.30 384.00 391.20 387.50 391.20" stroke="#333" stroke-width="0.8" stroke-dasharray="1 0.7" fill="none"/>
<path d="M387.50 391.20H391.10" stroke="#333" stroke-width="0.9" stroke-dasharray="1 1" fill="none"/>
<text transform="translate(379.20 383.20) rotate(-90)" font-size="7.4" fill="#333" text-anchor="middle">capping</text>
<text transform="translate(379.50 431.50) rotate(-90)" font-size="7.4" fill="#333" text-anchor="middle">buffer</text>
<text transform="translate(380.10 463.00) rotate(-90)" font-size="7.4" fill="#333" text-anchor="middle">substrate</text>
<path d="M478.80 405.90L487.00 405.90L496.80 391.60L504.30 391.60" stroke="#fba936" stroke-width="1.4" fill="none"/>
<text x="506.40" y="394.20" font-size="7.4" font-weight="bold" fill="#2a2a2a">0.4 nm Pt</text>
<path d="M478.80 408.70L487.00 408.70L496.80 400.90L504.30 400.90" stroke="#0981d2" stroke-width="1.4" fill="none"/>
<text x="506.40" y="403.50" font-size="7.4" font-weight="bold" fill="#2a2a2a">0.3 nm Co</text>
<path d="M478.80 413.60L504.30 413.60" stroke="#86d6f8" stroke-width="1.4" fill="none"/>
<text x="506.40" y="416.20" font-size="7.4" font-weight="bold" fill="#2a2a2a">0.7 nm CoO</text>
<path d="M478.80 418.50L487.80 418.50L496.80 427.80L504.30 427.80" stroke="#0981d2" stroke-width="1.4" fill="none"/>
<text x="506.40" y="430.40" font-size="7.4" font-weight="bold" fill="#2a2a2a">0.5 nm Co</text>
<text x="435.3" y="500.4" font-size="10" font-weight="bold" fill="#1a1a1a" stroke="#1a1a1a" stroke-width="0.2" text-anchor="middle">Sample C</text>
</svg>
</body></html>
